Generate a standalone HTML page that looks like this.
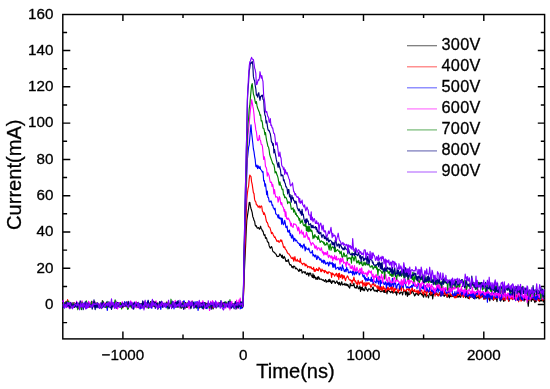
<!DOCTYPE html>
<html><head><meta charset="utf-8"><title>Current vs Time</title>
<style>html,body{margin:0;padding:0;background:#fff}body{width:550px;height:389px;position:relative;overflow:hidden}</style>
</head><body>
<svg width="550" height="389" viewBox="0 0 550 389" style="position:absolute;left:0;top:0">
<rect width="550" height="389" fill="#fff"/>
<rect x="62.8" y="14.5" width="481.8" height="324.4" fill="none" stroke="#000" stroke-width="1.45"/>
<path d="M122.9 338.9v-7.5M122.9 14.5v6.4M243.2 338.9v-7.5M243.2 14.5v6.4M363.5 338.9v-7.5M363.5 14.5v6.4M483.8 338.9v-7.5M483.8 14.5v6.4M183.0 338.9v-4.3M183.0 14.5v3.4M303.3 338.9v-4.3M303.3 14.5v3.4M423.6 338.9v-4.3M423.6 14.5v3.4M62.8 304.5h7.5M544.6 304.5h-6.8M62.8 268.2h7.5M544.6 268.2h-6.8M62.8 231.9h7.5M544.6 231.9h-6.8M62.8 195.7h7.5M544.6 195.7h-6.8M62.8 159.4h7.5M544.6 159.4h-6.8M62.8 123.1h7.5M544.6 123.1h-6.8M62.8 86.8h7.5M544.6 86.8h-6.8M62.8 50.5h7.5M544.6 50.5h-6.8M62.8 322.6h4.3M544.6 322.6h-3.8M62.8 286.4h4.3M544.6 286.4h-3.8M62.8 250.1h4.3M544.6 250.1h-3.8M62.8 213.8h4.3M544.6 213.8h-3.8M62.8 177.5h4.3M544.6 177.5h-3.8M62.8 141.2h4.3M544.6 141.2h-3.8M62.8 105.0h4.3M544.6 105.0h-3.8M62.8 68.7h4.3M544.6 68.7h-3.8M62.8 32.4h4.3M544.6 32.4h-3.8" stroke="#000" stroke-width="1.45" fill="none"/>
<g fill="none" stroke-width="1.15" stroke-linejoin="round">
<polyline points="62.8,305.0 63.4,304.6 64.0,305.3 64.6,306.1 65.2,305.5 65.8,306.2 66.4,304.9 67.0,303.3 67.6,305.6 68.2,305.7 68.8,304.3 69.4,304.5 70.0,304.8 70.6,306.1 71.2,305.0 71.8,304.1 72.4,306.6 73.0,305.5 73.6,307.3 74.2,306.6 74.8,307.3 75.4,305.2 76.0,303.6 76.6,304.6 77.2,304.8 77.8,305.2 78.4,308.1 79.0,305.6 79.6,305.0 80.2,304.8 80.8,306.9 81.4,305.6 82.0,306.2 82.6,306.0 83.2,303.6 83.8,306.0 84.4,305.0 85.0,303.8 85.6,305.7 86.2,305.1 86.8,304.8 87.4,304.9 88.0,306.5 88.6,304.9 89.2,303.3 89.8,306.9 90.4,303.9 91.0,304.2 91.6,303.8 92.2,302.4 92.8,304.0 93.4,306.5 94.0,304.9 94.6,304.2 95.2,307.5 95.8,304.1 96.4,305.0 97.0,304.1 97.6,303.2 98.2,307.0 98.8,304.7 99.4,305.5 100.0,304.8 100.6,306.4 101.2,305.7 101.8,305.2 102.4,300.7 103.1,303.5 103.7,305.3 104.3,305.9 104.9,304.1 105.5,307.4 106.1,305.5 106.7,305.1 107.3,303.4 107.9,304.1 108.5,305.4 109.1,305.4 109.7,305.3 110.3,303.0 110.9,305.5 111.5,305.3 112.1,304.5 112.7,305.1 113.3,305.2 113.9,306.3 114.5,305.0 115.1,305.5 115.7,300.9 116.3,304.1 116.9,305.0 117.5,304.1 118.1,305.4 118.7,303.6 119.3,305.0 119.9,304.2 120.5,306.6 121.1,305.4 121.7,307.1 122.3,307.5 122.9,305.3 123.5,306.1 124.1,304.7 124.7,302.1 125.3,306.0 125.9,306.6 126.5,304.7 127.1,304.3 127.7,305.2 128.3,305.2 128.9,304.1 129.5,304.3 130.1,306.2 130.7,305.1 131.3,304.9 131.9,306.3 132.5,304.6 133.1,306.0 133.7,303.7 134.3,304.7 134.9,304.8 135.5,305.7 136.1,305.1 136.7,307.5 137.3,306.4 137.9,304.5 138.5,307.6 139.1,303.9 139.7,307.1 140.3,304.0 140.9,306.0 141.5,304.0 142.1,304.8 142.7,306.9 143.4,303.4 144.0,301.7 144.6,305.0 145.2,305.3 145.8,305.2 146.4,306.2 147.0,303.6 147.6,305.6 148.2,305.0 148.8,305.9 149.4,305.7 150.0,306.6 150.6,301.5 151.2,305.1 151.8,303.7 152.4,304.9 153.0,305.8 153.6,305.4 154.2,305.7 154.8,304.9 155.4,305.4 156.0,305.3 156.6,306.7 157.2,306.0 157.8,302.9 158.4,305.8 159.0,306.3 159.6,304.5 160.2,303.2 160.8,306.8 161.4,305.2 162.0,305.7 162.6,307.2 163.2,304.0 163.8,305.0 164.4,304.9 165.0,305.9 165.6,304.4 166.2,305.6 166.8,305.1 167.4,306.3 168.0,306.5 168.6,303.3 169.2,305.6 169.8,304.6 170.4,305.0 171.0,305.5 171.6,305.6 172.2,304.2 172.8,305.3 173.4,305.1 174.0,304.9 174.6,303.5 175.2,304.1 175.8,304.5 176.4,305.7 177.0,306.7 177.6,303.8 178.2,303.7 178.8,305.1 179.4,302.3 180.0,304.0 180.6,303.9 181.2,303.8 181.8,305.5 182.4,303.1 183.0,306.5 183.7,303.9 184.3,304.3 184.9,303.9 185.5,302.6 186.1,303.1 186.7,306.4 187.3,307.1 187.9,303.9 188.5,306.2 189.1,305.0 189.7,303.9 190.3,307.0 190.9,307.6 191.5,304.6 192.1,304.9 192.7,305.3 193.3,304.9 193.9,307.9 194.5,306.8 195.1,305.2 195.7,303.1 196.3,307.0 196.9,304.3 197.5,305.0 198.1,304.4 198.7,306.2 199.3,305.8 199.9,306.2 200.5,306.1 201.1,304.7 201.7,305.9 202.3,304.5 202.9,304.5 203.5,302.4 204.1,306.7 204.7,303.8 205.3,305.1 205.9,305.0 206.5,306.8 207.1,305.5 207.7,304.0 208.3,305.1 208.9,304.9 209.5,305.3 210.1,303.5 210.7,305.0 211.3,307.7 211.9,305.8 212.5,307.4 213.1,309.0 213.7,305.6 214.3,303.3 214.9,304.9 215.5,306.4 216.1,306.1 216.7,303.5 217.3,304.8 217.9,304.9 218.5,305.0 219.1,304.9 219.7,303.9 220.3,304.3 220.9,302.5 221.5,306.3 222.1,304.3 222.7,305.8 223.4,303.6 224.0,306.5 224.6,305.1 225.2,305.0 225.8,306.6 226.4,302.8 227.0,303.1 227.6,305.5 228.2,304.0 228.8,304.5 229.4,308.2 230.0,302.5 230.6,305.0 231.2,304.8 231.8,306.3 232.4,305.3 233.0,305.2 233.6,303.5 234.2,304.5 234.8,305.0 235.4,303.0 236.0,305.6 236.6,305.4 237.2,307.2 237.8,303.0 238.4,303.7 239.0,303.8 239.6,304.1 240.2,304.8 240.8,304.7 241.4,305.3 242.0,305.2 242.6,304.9 243.2,302.9 243.8,287.3 244.4,271.3 245.0,258.0 245.6,245.9 246.2,231.4 246.8,220.5 247.4,216.3 248.0,212.1 248.6,208.3 249.2,202.5 249.8,202.3 250.4,206.2 251.0,208.5 251.6,210.5 252.2,212.6 252.8,216.7 253.4,218.0 254.0,220.4 254.6,221.1 255.2,225.1 255.8,226.1 256.4,225.8 257.0,227.8 257.6,228.2 258.2,227.5 258.8,228.0 259.4,229.2 260.0,227.9 260.6,226.2 261.2,228.8 261.8,229.2 262.4,231.2 263.0,231.0 263.7,234.2 264.3,235.4 264.9,234.5 265.5,238.3 266.1,237.5 266.7,238.5 267.3,241.4 267.9,242.3 268.5,242.2 269.1,245.7 269.7,246.9 270.3,248.3 270.9,247.4 271.5,246.5 272.1,248.0 272.7,251.0 273.3,251.8 273.9,252.2 274.5,252.3 275.1,253.6 275.7,253.9 276.3,254.7 276.9,256.2 277.5,256.6 278.1,256.3 278.7,256.3 279.3,255.5 279.9,253.8 280.5,255.0 281.1,255.6 281.7,257.4 282.3,255.0 282.9,258.3 283.5,258.4 284.1,256.4 284.7,257.3 285.3,259.0 285.9,261.4 286.5,260.5 287.1,261.5 287.7,260.6 288.3,259.4 288.9,262.3 289.5,264.1 290.1,265.1 290.7,264.6 291.3,265.4 291.9,267.3 292.5,266.5 293.1,268.1 293.7,266.0 294.3,266.3 294.9,266.8 295.5,268.8 296.1,268.1 296.7,268.2 297.3,269.4 297.9,269.7 298.5,271.0 299.1,271.4 299.7,269.0 300.3,270.6 300.9,270.3 301.5,269.7 302.1,273.1 302.7,272.5 303.3,271.7 304.0,271.7 304.6,273.0 305.2,271.7 305.8,272.9 306.4,274.5 307.0,274.6 307.6,272.9 308.2,273.3 308.8,276.1 309.4,273.0 310.0,274.0 310.6,273.1 311.2,275.5 311.8,276.0 312.4,277.4 313.0,273.7 313.6,278.0 314.2,275.2 314.8,277.9 315.4,277.2 316.0,279.5 316.6,278.6 317.2,277.1 317.8,279.5 318.4,276.7 319.0,277.5 319.6,279.3 320.2,279.0 320.8,279.2 321.4,279.0 322.0,279.8 322.6,280.2 323.2,279.7 323.8,280.7 324.4,281.5 325.0,280.5 325.6,279.6 326.2,282.4 326.8,280.8 327.4,281.4 328.0,281.9 328.6,279.7 329.2,281.5 329.8,279.2 330.4,282.2 331.0,280.9 331.6,283.5 332.2,282.2 332.8,280.7 333.4,281.7 334.0,280.9 334.6,282.0 335.2,283.5 335.8,282.3 336.4,282.0 337.0,280.9 337.6,283.4 338.2,282.6 338.8,284.8 339.4,282.2 340.0,284.2 340.6,285.2 341.2,283.1 341.8,281.7 342.4,285.0 343.0,284.6 343.7,284.2 344.3,285.0 344.9,283.3 345.5,285.1 346.1,285.2 346.7,283.9 347.3,285.7 347.9,284.5 348.5,286.7 349.1,287.1 349.7,288.1 350.3,283.3 350.9,286.0 351.5,285.1 352.1,285.6 352.7,285.4 353.3,285.6 353.9,283.2 354.5,287.2 355.1,288.0 355.7,287.4 356.3,288.1 356.9,285.5 357.5,285.7 358.1,288.4 358.7,288.9 359.3,287.9 359.9,285.8 360.5,291.4 361.1,287.3 361.7,289.6 362.3,286.8 362.9,290.1 363.5,288.8 364.1,290.8 364.7,290.1 365.3,286.7 365.9,287.4 366.5,289.4 367.1,289.8 367.7,291.3 368.3,289.3 368.9,288.8 369.5,289.2 370.1,288.9 370.7,290.7 371.3,289.5 371.9,289.6 372.5,287.9 373.1,287.0 373.7,289.9 374.3,291.1 374.9,290.0 375.5,290.9 376.1,291.4 376.7,290.3 377.3,291.9 377.9,289.4 378.5,290.5 379.1,290.2 379.7,290.8 380.3,291.4 380.9,291.9 381.5,290.9 382.1,291.4 382.7,290.3 383.3,290.5 384.0,292.5 384.6,290.2 385.2,292.5 385.8,291.5 386.4,291.1 387.0,293.9 387.6,290.4 388.2,290.2 388.8,290.9 389.4,291.5 390.0,291.6 390.6,292.7 391.2,291.7 391.8,292.1 392.4,291.2 393.0,293.3 393.6,291.4 394.2,291.9 394.8,292.2 395.4,292.8 396.0,291.6 396.6,295.1 397.2,291.8 397.8,292.4 398.4,292.3 399.0,292.4 399.6,294.0 400.2,293.4 400.8,292.1 401.4,292.3 402.0,292.6 402.6,295.0 403.2,291.9 403.8,290.9 404.4,291.2 405.0,291.4 405.6,294.9 406.2,290.9 406.8,292.8 407.4,296.4 408.0,291.9 408.6,294.9 409.2,294.7 409.8,293.9 410.4,291.1 411.0,293.5 411.6,292.6 412.2,290.7 412.8,290.8 413.4,293.5 414.0,294.0 414.6,296.0 415.2,295.3 415.8,293.5 416.4,293.5 417.0,294.2 417.6,292.9 418.2,295.4 418.8,294.6 419.4,293.4 420.0,293.6 420.6,292.8 421.2,293.7 421.8,294.9 422.4,293.9 423.0,296.1 423.6,297.2 424.3,293.7 424.9,294.6 425.5,294.3 426.1,297.2 426.7,295.1 427.3,295.4 427.9,295.9 428.5,297.9 429.1,295.0 429.7,293.2 430.3,294.3 430.9,295.7 431.5,294.6 432.1,293.5 432.7,298.9 433.3,294.9 433.9,293.8 434.5,293.6 435.1,292.2 435.7,293.1 436.3,294.3 436.9,294.4 437.5,293.9 438.1,296.0 438.7,295.3 439.3,294.0 439.9,292.4 440.5,296.0 441.1,295.6 441.7,294.9 442.3,293.2 442.9,295.2 443.5,292.9 444.1,296.4 444.7,295.3 445.3,295.3 445.9,294.0 446.5,293.3 447.1,297.3 447.7,296.6 448.3,294.8 448.9,296.4 449.5,297.8 450.1,294.2 450.7,296.5 451.3,295.1 451.9,296.7 452.5,294.3 453.1,296.3 453.7,294.5 454.3,297.5 454.9,294.0 455.5,295.8 456.1,297.1 456.7,295.0 457.3,295.7 457.9,297.4 458.5,296.1 459.1,296.6 459.7,294.8 460.3,297.3 460.9,296.9 461.5,294.6 462.1,293.2 462.7,293.4 463.3,296.4 464.0,295.9 464.6,293.9 465.2,296.7 465.8,297.7 466.4,296.0 467.0,295.5 467.6,297.3 468.2,298.4 468.8,298.4 469.4,295.0 470.0,297.4 470.6,296.6 471.2,296.2 471.8,295.6 472.4,297.2 473.0,296.2 473.6,298.4 474.2,297.7 474.8,298.7 475.4,295.5 476.0,297.4 476.6,298.2 477.2,297.6 477.8,297.1 478.4,296.1 479.0,299.0 479.6,298.2 480.2,297.5 480.8,293.1 481.4,295.7 482.0,297.1 482.6,296.3 483.2,294.0 483.8,297.9 484.4,298.2 485.0,299.2 485.6,297.2 486.2,296.7 486.8,298.4 487.4,294.7 488.0,295.4 488.6,296.9 489.2,296.9 489.8,300.9 490.4,296.9 491.0,297.8 491.6,296.9 492.2,296.6 492.8,298.4 493.4,300.3 494.0,297.0 494.6,298.8 495.2,298.4 495.8,298.8 496.4,298.6 497.0,301.7 497.6,296.5 498.2,297.6 498.8,296.1 499.4,295.0 500.0,298.2 500.6,301.1 501.2,299.7 501.8,299.6 502.4,299.0 503.0,298.1 503.6,301.3 504.3,298.1 504.9,300.8 505.5,298.0 506.1,298.2 506.7,298.6 507.3,298.3 507.9,299.0 508.5,299.0 509.1,301.0 509.7,298.5 510.3,295.6 510.9,295.5 511.5,296.6 512.1,297.7 512.7,299.6 513.3,296.4 513.9,298.8 514.5,298.8 515.1,299.0 515.7,298.2 516.3,299.0 516.9,298.5 517.5,300.1 518.1,299.3 518.7,295.5 519.3,299.0 519.9,299.3 520.5,297.9 521.1,297.7 521.7,300.5 522.3,299.0 522.9,297.3 523.5,298.3 524.1,301.1 524.7,296.2 525.3,299.8 525.9,298.6 526.5,299.6 527.1,296.6 527.7,301.8 528.3,306.3 528.9,300.0 529.5,298.1 530.1,298.3 530.7,297.1 531.3,301.5 531.9,297.9 532.5,299.5 533.1,300.0 533.7,298.4 534.3,300.8 534.9,302.6 535.5,300.0 536.1,301.6 536.7,300.4 537.3,298.7 537.9,298.9 538.5,297.0 539.1,299.7 539.7,301.7 540.3,300.4 540.9,300.5 541.5,301.0 542.1,298.5 542.7,299.9 543.3,302.2 544.0,298.2" stroke="#000000"/>
<polyline points="62.8,306.9 63.4,303.3 64.0,304.9 64.6,304.5 65.2,302.5 65.8,301.6 66.4,306.2 67.0,303.5 67.6,299.6 68.2,304.4 68.8,304.3 69.4,305.0 70.0,305.6 70.6,304.1 71.2,304.5 71.8,303.3 72.4,303.7 73.0,304.3 73.6,304.5 74.2,302.6 74.8,304.3 75.4,304.6 76.0,306.1 76.6,305.4 77.2,306.4 77.8,304.8 78.4,304.6 79.0,307.7 79.6,304.9 80.2,304.1 80.8,304.7 81.4,306.2 82.0,303.2 82.6,305.9 83.2,306.6 83.8,306.4 84.4,305.0 85.0,303.6 85.6,303.4 86.2,304.7 86.8,306.6 87.4,305.8 88.0,306.2 88.6,305.2 89.2,307.4 89.8,304.8 90.4,304.1 91.0,305.2 91.6,304.3 92.2,306.2 92.8,306.9 93.4,305.8 94.0,303.4 94.6,303.6 95.2,305.6 95.8,303.3 96.4,305.4 97.0,302.9 97.6,304.3 98.2,305.6 98.8,303.9 99.4,306.0 100.0,306.2 100.6,306.9 101.2,304.6 101.8,303.4 102.4,305.1 103.1,305.5 103.7,303.0 104.3,305.5 104.9,305.9 105.5,303.3 106.1,303.0 106.7,304.5 107.3,307.3 107.9,305.8 108.5,304.1 109.1,304.9 109.7,302.8 110.3,306.8 110.9,304.0 111.5,305.8 112.1,303.2 112.7,305.1 113.3,303.6 113.9,305.8 114.5,306.9 115.1,306.5 115.7,305.8 116.3,306.3 116.9,303.3 117.5,303.1 118.1,304.6 118.7,306.4 119.3,305.1 119.9,305.9 120.5,303.0 121.1,304.5 121.7,304.3 122.3,305.5 122.9,307.7 123.5,306.0 124.1,306.5 124.7,304.5 125.3,304.8 125.9,306.0 126.5,305.5 127.1,301.9 127.7,306.3 128.3,306.2 128.9,305.3 129.5,305.9 130.1,305.5 130.7,304.2 131.3,302.6 131.9,307.4 132.5,305.0 133.1,305.4 133.7,305.1 134.3,305.2 134.9,305.4 135.5,303.6 136.1,305.6 136.7,305.1 137.3,305.0 137.9,304.8 138.5,305.2 139.1,303.6 139.7,305.0 140.3,304.7 140.9,305.0 141.5,306.6 142.1,306.1 142.7,305.4 143.4,304.7 144.0,305.9 144.6,306.4 145.2,304.6 145.8,304.2 146.4,307.3 147.0,302.7 147.6,305.9 148.2,305.1 148.8,303.5 149.4,304.9 150.0,305.8 150.6,302.5 151.2,306.4 151.8,305.1 152.4,303.8 153.0,306.4 153.6,305.1 154.2,304.4 154.8,301.7 155.4,306.2 156.0,305.0 156.6,304.1 157.2,304.8 157.8,304.4 158.4,304.4 159.0,304.8 159.6,304.3 160.2,303.4 160.8,303.6 161.4,304.4 162.0,304.5 162.6,306.4 163.2,305.1 163.8,304.7 164.4,305.5 165.0,304.8 165.6,306.1 166.2,302.9 166.8,302.0 167.4,305.5 168.0,304.4 168.6,305.3 169.2,303.2 169.8,304.4 170.4,304.8 171.0,305.3 171.6,304.8 172.2,306.3 172.8,304.0 173.4,305.9 174.0,304.2 174.6,304.8 175.2,303.5 175.8,305.0 176.4,303.6 177.0,306.2 177.6,304.1 178.2,305.3 178.8,304.7 179.4,304.9 180.0,303.7 180.6,307.7 181.2,304.5 181.8,307.0 182.4,303.3 183.0,307.6 183.7,306.3 184.3,307.2 184.9,304.8 185.5,306.7 186.1,304.8 186.7,305.7 187.3,307.4 187.9,305.4 188.5,304.1 189.1,305.2 189.7,303.7 190.3,305.4 190.9,304.9 191.5,305.5 192.1,304.5 192.7,302.4 193.3,304.5 193.9,304.7 194.5,305.8 195.1,306.0 195.7,303.0 196.3,306.5 196.9,306.2 197.5,305.1 198.1,305.5 198.7,302.3 199.3,308.2 199.9,304.5 200.5,304.0 201.1,306.5 201.7,305.8 202.3,304.4 202.9,302.7 203.5,306.2 204.1,307.1 204.7,303.6 205.3,302.9 205.9,305.4 206.5,308.0 207.1,303.0 207.7,305.2 208.3,303.4 208.9,305.0 209.5,305.5 210.1,305.6 210.7,303.0 211.3,303.0 211.9,307.9 212.5,306.2 213.1,302.5 213.7,305.5 214.3,306.8 214.9,304.9 215.5,305.1 216.1,305.1 216.7,305.6 217.3,305.4 217.9,305.6 218.5,304.5 219.1,306.1 219.7,305.3 220.3,305.1 220.9,303.2 221.5,304.4 222.1,305.1 222.7,302.9 223.4,304.4 224.0,303.5 224.6,304.3 225.2,302.5 225.8,305.1 226.4,305.0 227.0,305.5 227.6,303.8 228.2,304.3 228.8,305.1 229.4,307.0 230.0,307.4 230.6,304.5 231.2,303.9 231.8,303.9 232.4,306.7 233.0,303.5 233.6,305.7 234.2,304.4 234.8,304.4 235.4,306.0 236.0,305.8 236.6,307.8 237.2,306.2 237.8,307.4 238.4,304.4 239.0,304.9 239.6,303.7 240.2,304.5 240.8,305.8 241.4,304.5 242.0,305.5 242.6,304.1 243.2,304.1 243.8,284.5 244.4,262.2 245.0,244.9 245.6,230.9 246.2,214.9 246.8,199.4 247.4,193.3 248.0,188.7 248.6,186.3 249.2,179.2 249.8,175.0 250.4,175.9 251.0,176.6 251.6,181.9 252.2,184.3 252.8,188.7 253.4,192.6 254.0,193.6 254.6,199.4 255.2,201.2 255.8,201.8 256.4,204.8 257.0,204.8 257.6,205.8 258.2,207.3 258.8,206.2 259.4,205.9 260.0,208.0 260.6,206.7 261.2,205.8 261.8,206.5 262.4,211.1 263.0,211.9 263.7,214.5 264.3,212.8 264.9,214.7 265.5,216.6 266.1,220.0 266.7,222.1 267.3,222.3 267.9,224.1 268.5,226.7 269.1,226.9 269.7,227.2 270.3,228.9 270.9,231.2 271.5,233.6 272.1,232.4 272.7,233.3 273.3,235.0 273.9,236.1 274.5,237.5 275.1,236.9 275.7,238.9 276.3,239.7 276.9,241.4 277.5,241.2 278.1,240.5 278.7,242.0 279.3,242.3 279.9,241.3 280.5,239.9 281.1,241.4 281.7,240.1 282.3,242.6 282.9,244.3 283.5,247.1 284.1,247.6 284.7,246.7 285.3,249.1 285.9,249.6 286.5,250.5 287.1,252.1 287.7,253.2 288.3,253.8 288.9,253.9 289.5,254.9 290.1,255.8 290.7,256.8 291.3,258.3 291.9,257.9 292.5,258.8 293.1,257.2 293.7,261.2 294.3,259.4 294.9,256.5 295.5,260.2 296.1,261.2 296.7,260.2 297.3,259.2 297.9,261.3 298.5,260.8 299.1,261.4 299.7,262.1 300.3,258.3 300.9,262.4 301.5,263.3 302.1,263.7 302.7,264.8 303.3,263.2 304.0,263.2 304.6,264.0 305.2,266.0 305.8,264.1 306.4,265.4 307.0,265.4 307.6,267.7 308.2,266.4 308.8,266.7 309.4,266.6 310.0,268.1 310.6,266.8 311.2,267.1 311.8,268.8 312.4,268.5 313.0,269.3 313.6,267.4 314.2,271.5 314.8,269.4 315.4,271.2 316.0,269.9 316.6,268.5 317.2,270.4 317.8,269.5 318.4,270.7 319.0,267.4 319.6,268.9 320.2,268.8 320.8,271.7 321.4,271.6 322.0,269.0 322.6,270.6 323.2,270.8 323.8,270.4 324.4,272.6 325.0,270.3 325.6,271.6 326.2,271.5 326.8,273.1 327.4,272.2 328.0,273.7 328.6,271.9 329.2,271.9 329.8,272.4 330.4,272.9 331.0,273.1 331.6,277.4 332.2,272.9 332.8,274.5 333.4,273.9 334.0,274.6 334.6,276.2 335.2,275.3 335.8,274.1 336.4,273.3 337.0,276.0 337.6,276.6 338.2,273.5 338.8,279.5 339.4,273.2 340.0,276.1 340.6,277.5 341.2,275.4 341.8,274.5 342.4,279.0 343.0,275.2 343.7,277.9 344.3,275.8 344.9,278.8 345.5,280.7 346.1,278.1 346.7,277.6 347.3,275.9 347.9,276.5 348.5,278.1 349.1,279.6 349.7,280.1 350.3,279.7 350.9,280.9 351.5,280.3 352.1,283.7 352.7,280.0 353.3,280.7 353.9,277.1 354.5,279.8 355.1,281.9 355.7,280.8 356.3,283.8 356.9,282.9 357.5,284.8 358.1,280.3 358.7,281.7 359.3,284.3 359.9,283.0 360.5,281.9 361.1,282.8 361.7,282.9 362.3,280.5 362.9,286.4 363.5,283.5 364.1,282.5 364.7,285.5 365.3,285.9 365.9,282.7 366.5,285.8 367.1,282.6 367.7,284.3 368.3,283.7 368.9,282.6 369.5,284.4 370.1,284.3 370.7,287.1 371.3,287.0 371.9,284.9 372.5,283.8 373.1,284.3 373.7,282.6 374.3,285.8 374.9,285.8 375.5,284.8 376.1,286.5 376.7,286.7 377.3,288.4 377.9,285.6 378.5,289.0 379.1,286.7 379.7,290.1 380.3,286.0 380.9,289.7 381.5,286.7 382.1,290.6 382.7,288.6 383.3,286.1 384.0,289.3 384.6,288.1 385.2,288.8 385.8,291.9 386.4,287.7 387.0,287.4 387.6,290.0 388.2,287.2 388.8,289.7 389.4,290.1 390.0,288.3 390.6,289.2 391.2,284.2 391.8,290.7 392.4,287.1 393.0,286.9 393.6,291.9 394.2,291.8 394.8,288.2 395.4,289.9 396.0,288.6 396.6,287.6 397.2,290.0 397.8,291.0 398.4,292.6 399.0,288.6 399.6,290.4 400.2,288.2 400.8,288.0 401.4,290.9 402.0,285.8 402.6,286.9 403.2,287.5 403.8,291.2 404.4,289.9 405.0,290.2 405.6,290.2 406.2,291.3 406.8,288.9 407.4,289.3 408.0,289.0 408.6,290.4 409.2,287.4 409.8,289.1 410.4,294.0 411.0,290.7 411.6,290.0 412.2,286.8 412.8,290.7 413.4,290.6 414.0,291.6 414.6,289.5 415.2,291.5 415.8,291.9 416.4,292.2 417.0,290.1 417.6,292.0 418.2,293.9 418.8,290.3 419.4,292.9 420.0,291.1 420.6,291.3 421.2,290.0 421.8,290.5 422.4,293.2 423.0,292.7 423.6,294.6 424.3,289.8 424.9,291.9 425.5,290.3 426.1,293.1 426.7,295.8 427.3,289.8 427.9,291.9 428.5,291.9 429.1,292.0 429.7,291.1 430.3,291.3 430.9,294.8 431.5,290.4 432.1,293.0 432.7,293.2 433.3,289.7 433.9,291.3 434.5,293.4 435.1,296.2 435.7,292.9 436.3,292.4 436.9,293.6 437.5,295.5 438.1,295.1 438.7,295.8 439.3,293.4 439.9,292.7 440.5,292.3 441.1,295.2 441.7,293.6 442.3,293.1 442.9,294.7 443.5,294.3 444.1,290.6 444.7,293.8 445.3,292.8 445.9,294.8 446.5,294.0 447.1,296.9 447.7,294.2 448.3,290.0 448.9,291.2 449.5,292.7 450.1,293.6 450.7,294.8 451.3,296.1 451.9,295.4 452.5,294.4 453.1,295.8 453.7,293.8 454.3,296.8 454.9,298.0 455.5,296.6 456.1,297.7 456.7,296.9 457.3,292.8 457.9,295.2 458.5,294.5 459.1,292.9 459.7,292.9 460.3,296.0 460.9,293.1 461.5,294.7 462.1,295.2 462.7,294.6 463.3,297.5 464.0,296.1 464.6,295.1 465.2,293.8 465.8,295.5 466.4,295.0 467.0,293.2 467.6,292.6 468.2,293.8 468.8,293.3 469.4,298.9 470.0,296.5 470.6,295.4 471.2,296.6 471.8,296.9 472.4,293.1 473.0,296.1 473.6,297.3 474.2,295.0 474.8,292.5 475.4,295.4 476.0,293.3 476.6,296.2 477.2,296.0 477.8,296.7 478.4,296.0 479.0,293.1 479.6,298.1 480.2,293.4 480.8,298.0 481.4,296.8 482.0,295.1 482.6,295.4 483.2,296.0 483.8,299.4 484.4,296.1 485.0,298.1 485.6,292.3 486.2,297.2 486.8,296.4 487.4,298.7 488.0,297.8 488.6,299.1 489.2,295.6 489.8,297.3 490.4,296.2 491.0,298.3 491.6,297.1 492.2,294.6 492.8,298.7 493.4,299.9 494.0,296.3 494.6,299.0 495.2,297.7 495.8,295.8 496.4,298.3 497.0,295.7 497.6,298.2 498.2,294.7 498.8,294.9 499.4,298.0 500.0,297.6 500.6,298.5 501.2,296.8 501.8,295.2 502.4,299.6 503.0,295.6 503.6,299.5 504.3,298.9 504.9,300.4 505.5,293.9 506.1,297.3 506.7,297.1 507.3,298.9 507.9,295.8 508.5,301.3 509.1,297.9 509.7,294.4 510.3,298.8 510.9,298.0 511.5,297.0 512.1,299.4 512.7,297.7 513.3,296.1 513.9,297.4 514.5,296.8 515.1,298.1 515.7,297.0 516.3,297.1 516.9,294.9 517.5,296.1 518.1,297.9 518.7,301.8 519.3,296.7 519.9,296.6 520.5,299.4 521.1,301.2 521.7,299.9 522.3,296.6 522.9,300.1 523.5,299.2 524.1,298.1 524.7,296.0 525.3,297.9 525.9,298.3 526.5,299.1 527.1,295.7 527.7,296.6 528.3,298.4 528.9,300.3 529.5,299.4 530.1,297.5 530.7,299.8 531.3,297.2 531.9,298.1 532.5,298.2 533.1,297.5 533.7,297.9 534.3,300.2 534.9,299.5 535.5,294.5 536.1,300.9 536.7,299.8 537.3,297.4 537.9,299.3 538.5,300.5 539.1,301.1 539.7,297.9 540.3,297.3 540.9,296.8 541.5,299.1 542.1,297.3 542.7,300.4 543.3,298.5 544.0,300.1" stroke="#ff0000"/>
<polyline points="62.8,304.2 63.4,306.3 64.0,304.9 64.6,308.1 65.2,305.6 65.8,303.4 66.4,302.0 67.0,305.4 67.6,305.5 68.2,304.2 68.8,303.0 69.4,304.1 70.0,306.5 70.6,304.4 71.2,303.2 71.8,306.4 72.4,307.6 73.0,304.1 73.6,304.4 74.2,303.2 74.8,304.9 75.4,306.3 76.0,305.9 76.6,307.0 77.2,306.8 77.8,306.1 78.4,306.0 79.0,303.0 79.6,307.3 80.2,305.1 80.8,306.2 81.4,302.3 82.0,304.6 82.6,305.7 83.2,303.5 83.8,305.7 84.4,305.9 85.0,302.2 85.6,303.7 86.2,303.0 86.8,302.9 87.4,303.6 88.0,304.8 88.6,307.1 89.2,303.7 89.8,304.9 90.4,303.8 91.0,305.1 91.6,306.3 92.2,306.9 92.8,303.7 93.4,302.6 94.0,305.6 94.6,304.2 95.2,302.5 95.8,306.6 96.4,305.7 97.0,307.1 97.6,302.8 98.2,304.5 98.8,305.9 99.4,308.1 100.0,305.4 100.6,303.2 101.2,305.6 101.8,305.8 102.4,303.8 103.1,307.3 103.7,304.9 104.3,303.9 104.9,306.5 105.5,306.6 106.1,304.6 106.7,305.2 107.3,310.4 107.9,304.6 108.5,304.6 109.1,306.8 109.7,306.3 110.3,304.2 110.9,302.9 111.5,302.5 112.1,306.6 112.7,303.0 113.3,303.6 113.9,305.1 114.5,304.1 115.1,303.5 115.7,301.7 116.3,307.0 116.9,303.9 117.5,305.3 118.1,305.4 118.7,302.9 119.3,303.5 119.9,306.9 120.5,305.5 121.1,304.6 121.7,307.6 122.3,303.7 122.9,305.2 123.5,304.7 124.1,304.4 124.7,301.7 125.3,304.9 125.9,305.7 126.5,301.8 127.1,305.9 127.7,306.0 128.3,307.6 128.9,303.0 129.5,304.5 130.1,304.6 130.7,304.7 131.3,305.3 131.9,306.5 132.5,306.5 133.1,304.2 133.7,304.8 134.3,302.0 134.9,306.4 135.5,305.9 136.1,306.9 136.7,302.4 137.3,307.3 137.9,303.6 138.5,302.3 139.1,305.3 139.7,303.7 140.3,309.0 140.9,305.7 141.5,308.1 142.1,304.7 142.7,305.0 143.4,306.4 144.0,303.3 144.6,304.3 145.2,306.0 145.8,306.0 146.4,307.7 147.0,305.3 147.6,301.1 148.2,306.3 148.8,304.2 149.4,306.0 150.0,303.5 150.6,304.2 151.2,305.4 151.8,308.3 152.4,306.0 153.0,302.8 153.6,305.5 154.2,303.8 154.8,305.9 155.4,308.5 156.0,304.2 156.6,304.4 157.2,306.1 157.8,305.7 158.4,304.5 159.0,306.1 159.6,304.4 160.2,305.4 160.8,309.4 161.4,305.3 162.0,306.1 162.6,306.6 163.2,304.3 163.8,305.9 164.4,304.0 165.0,303.0 165.6,304.7 166.2,307.9 166.8,306.4 167.4,303.3 168.0,305.5 168.6,306.5 169.2,305.2 169.8,304.1 170.4,304.5 171.0,303.8 171.6,306.5 172.2,305.5 172.8,305.5 173.4,305.0 174.0,308.9 174.6,305.4 175.2,307.5 175.8,302.4 176.4,302.1 177.0,301.9 177.6,303.5 178.2,305.9 178.8,303.2 179.4,305.4 180.0,303.9 180.6,306.7 181.2,306.1 181.8,304.1 182.4,301.7 183.0,305.0 183.7,300.8 184.3,301.1 184.9,307.4 185.5,305.0 186.1,306.8 186.7,305.2 187.3,306.0 187.9,305.1 188.5,303.2 189.1,303.2 189.7,304.5 190.3,305.0 190.9,304.8 191.5,304.7 192.1,303.9 192.7,305.0 193.3,304.0 193.9,308.1 194.5,303.5 195.1,301.7 195.7,304.6 196.3,307.6 196.9,301.6 197.5,305.6 198.1,310.5 198.7,305.4 199.3,303.9 199.9,304.3 200.5,302.7 201.1,303.8 201.7,304.5 202.3,308.6 202.9,307.0 203.5,304.6 204.1,303.7 204.7,306.9 205.3,306.1 205.9,304.1 206.5,308.5 207.1,308.6 207.7,305.4 208.3,304.5 208.9,305.9 209.5,309.2 210.1,304.9 210.7,307.4 211.3,303.8 211.9,305.2 212.5,304.5 213.1,303.8 213.7,306.0 214.3,303.4 214.9,302.7 215.5,304.2 216.1,302.5 216.7,306.1 217.3,303.3 217.9,304.5 218.5,306.8 219.1,305.1 219.7,306.0 220.3,306.0 220.9,304.8 221.5,303.0 222.1,305.6 222.7,304.7 223.4,307.7 224.0,304.8 224.6,302.8 225.2,303.5 225.8,304.1 226.4,306.0 227.0,306.8 227.6,305.1 228.2,307.5 228.8,307.3 229.4,303.2 230.0,306.7 230.6,301.6 231.2,307.6 231.8,304.2 232.4,307.2 233.0,303.6 233.6,306.9 234.2,304.9 234.8,305.3 235.4,305.8 236.0,304.0 236.6,302.2 237.2,306.1 237.8,303.3 238.4,304.8 239.0,305.0 239.6,300.9 240.2,309.0 240.8,306.2 241.4,308.3 242.0,305.6 242.6,305.4 243.2,298.4 243.8,276.7 244.4,247.2 245.0,226.7 245.6,212.2 246.2,193.3 246.8,174.1 247.4,159.1 248.0,153.4 248.6,147.2 249.2,144.8 249.8,138.0 250.4,130.4 251.0,124.8 251.6,132.9 252.2,137.7 252.8,143.3 253.4,149.0 254.0,151.6 254.6,156.3 255.2,159.7 255.8,166.3 256.4,166.9 257.0,165.0 257.6,168.6 258.2,165.9 258.8,167.8 259.4,168.5 260.0,166.3 260.6,169.3 261.2,170.0 261.8,170.7 262.4,172.2 263.0,171.7 263.7,180.9 264.3,180.5 264.9,186.1 265.5,183.8 266.1,188.9 266.7,194.6 267.3,191.0 267.9,197.4 268.5,197.5 269.1,201.2 269.7,202.0 270.3,202.0 270.9,200.8 271.5,202.0 272.1,205.5 272.7,204.9 273.3,208.0 273.9,208.3 274.5,209.8 275.1,208.2 275.7,213.6 276.3,214.3 276.9,214.6 277.5,215.8 278.1,217.8 278.7,214.7 279.3,218.7 279.9,217.8 280.5,219.0 281.1,217.9 281.7,224.3 282.3,218.3 282.9,222.9 283.5,224.7 284.1,223.2 284.7,220.3 285.3,223.2 285.9,227.5 286.5,227.7 287.1,226.1 287.7,231.8 288.3,230.8 288.9,232.4 289.5,230.0 290.1,235.4 290.7,233.6 291.3,237.4 291.9,238.2 292.5,234.9 293.1,236.9 293.7,241.3 294.3,238.3 294.9,238.5 295.5,240.9 296.1,240.0 296.7,240.4 297.3,242.2 297.9,242.8 298.5,243.3 299.1,243.3 299.7,245.5 300.3,243.9 300.9,247.2 301.5,245.3 302.1,246.1 302.7,248.1 303.3,245.2 304.0,244.0 304.6,246.6 305.2,250.8 305.8,246.8 306.4,248.8 307.0,249.2 307.6,249.1 308.2,249.9 308.8,248.0 309.4,250.2 310.0,252.2 310.6,253.0 311.2,252.9 311.8,252.1 312.4,250.5 313.0,255.9 313.6,254.6 314.2,255.6 314.8,257.0 315.4,255.1 316.0,255.5 316.6,259.4 317.2,259.1 317.8,255.9 318.4,257.6 319.0,257.4 319.6,259.8 320.2,260.0 320.8,258.7 321.4,260.8 322.0,262.5 322.6,261.1 323.2,260.1 323.8,263.5 324.4,260.4 325.0,261.7 325.6,264.2 326.2,263.0 326.8,263.7 327.4,262.4 328.0,262.3 328.6,265.9 329.2,264.5 329.8,261.8 330.4,263.7 331.0,263.2 331.6,264.0 332.2,262.4 332.8,267.2 333.4,263.6 334.0,267.5 334.6,264.6 335.2,263.9 335.8,269.3 336.4,268.2 337.0,268.0 337.6,267.6 338.2,267.3 338.8,269.6 339.4,269.7 340.0,267.0 340.6,267.2 341.2,270.3 341.8,270.6 342.4,264.9 343.0,267.4 343.7,269.2 344.3,271.6 344.9,271.0 345.5,269.4 346.1,271.8 346.7,267.2 347.3,269.9 347.9,269.6 348.5,272.9 349.1,272.7 349.7,272.6 350.3,271.0 350.9,272.4 351.5,272.7 352.1,271.6 352.7,275.1 353.3,269.8 353.9,273.1 354.5,274.8 355.1,272.8 355.7,270.2 356.3,274.1 356.9,272.9 357.5,271.9 358.1,272.1 358.7,272.6 359.3,275.0 359.9,274.1 360.5,272.1 361.1,272.4 361.7,273.1 362.3,273.5 362.9,276.4 363.5,277.0 364.1,275.0 364.7,279.2 365.3,277.2 365.9,281.1 366.5,278.5 367.1,279.2 367.7,280.7 368.3,277.4 368.9,280.2 369.5,279.8 370.1,279.6 370.7,281.3 371.3,277.1 371.9,281.3 372.5,279.6 373.1,283.3 373.7,281.4 374.3,281.1 374.9,281.5 375.5,282.4 376.1,283.0 376.7,277.6 377.3,281.2 377.9,281.5 378.5,284.2 379.1,276.0 379.7,278.2 380.3,286.8 380.9,280.3 381.5,283.3 382.1,282.6 382.7,281.7 383.3,282.3 384.0,284.4 384.6,284.5 385.2,281.9 385.8,282.5 386.4,288.1 387.0,284.5 387.6,280.6 388.2,284.8 388.8,282.8 389.4,286.7 390.0,281.8 390.6,286.1 391.2,286.5 391.8,284.3 392.4,278.4 393.0,285.1 393.6,286.8 394.2,283.2 394.8,283.9 395.4,280.9 396.0,287.6 396.6,288.4 397.2,285.5 397.8,284.4 398.4,284.4 399.0,282.8 399.6,289.2 400.2,287.7 400.8,286.1 401.4,283.7 402.0,284.2 402.6,286.5 403.2,287.7 403.8,283.4 404.4,283.4 405.0,279.2 405.6,285.1 406.2,286.9 406.8,288.0 407.4,286.7 408.0,287.5 408.6,287.0 409.2,288.2 409.8,287.3 410.4,286.5 411.0,287.4 411.6,285.3 412.2,287.1 412.8,286.3 413.4,283.0 414.0,285.6 414.6,286.1 415.2,286.3 415.8,286.1 416.4,285.2 417.0,288.7 417.6,284.6 418.2,283.4 418.8,284.9 419.4,288.7 420.0,291.1 420.6,288.6 421.2,287.7 421.8,286.2 422.4,288.3 423.0,289.0 423.6,284.4 424.3,289.5 424.9,285.5 425.5,285.8 426.1,291.2 426.7,287.6 427.3,289.1 427.9,290.2 428.5,292.0 429.1,291.3 429.7,287.1 430.3,289.0 430.9,288.1 431.5,291.5 432.1,291.1 432.7,290.0 433.3,293.2 433.9,293.7 434.5,289.4 435.1,290.0 435.7,292.7 436.3,291.0 436.9,289.0 437.5,286.3 438.1,292.3 438.7,289.1 439.3,285.8 439.9,290.6 440.5,287.2 441.1,296.3 441.7,287.3 442.3,290.8 442.9,295.2 443.5,289.3 444.1,288.8 444.7,289.2 445.3,288.8 445.9,291.6 446.5,293.5 447.1,292.8 447.7,291.7 448.3,290.7 448.9,293.0 449.5,291.9 450.1,290.4 450.7,291.8 451.3,287.1 451.9,287.4 452.5,294.9 453.1,293.9 453.7,295.8 454.3,295.7 454.9,291.6 455.5,295.1 456.1,294.7 456.7,293.0 457.3,290.6 457.9,293.5 458.5,293.3 459.1,290.5 459.7,291.4 460.3,291.3 460.9,290.5 461.5,294.9 462.1,292.4 462.7,294.1 463.3,290.4 464.0,290.7 464.6,295.5 465.2,290.1 465.8,296.2 466.4,291.0 467.0,293.0 467.6,295.6 468.2,296.5 468.8,294.7 469.4,294.4 470.0,295.9 470.6,292.6 471.2,297.0 471.8,293.3 472.4,293.4 473.0,297.7 473.6,292.8 474.2,296.2 474.8,298.9 475.4,294.4 476.0,293.9 476.6,291.5 477.2,294.9 477.8,291.0 478.4,291.1 479.0,291.7 479.6,291.4 480.2,294.0 480.8,296.1 481.4,293.9 482.0,293.1 482.6,294.9 483.2,291.5 483.8,298.5 484.4,293.5 485.0,294.4 485.6,297.8 486.2,294.2 486.8,292.8 487.4,302.2 488.0,292.5 488.6,292.6 489.2,297.8 489.8,295.4 490.4,293.7 491.0,298.8 491.6,291.8 492.2,299.4 492.8,295.5 493.4,294.0 494.0,292.7 494.6,291.8 495.2,297.4 495.8,296.1 496.4,297.7 497.0,293.3 497.6,298.1 498.2,292.4 498.8,293.0 499.4,294.1 500.0,300.5 500.6,297.0 501.2,294.1 501.8,299.1 502.4,296.1 503.0,296.2 503.6,294.2 504.3,295.5 504.9,295.4 505.5,296.8 506.1,295.8 506.7,296.3 507.3,294.2 507.9,295.1 508.5,293.7 509.1,299.6 509.7,293.0 510.3,296.2 510.9,293.5 511.5,296.1 512.1,294.3 512.7,292.7 513.3,297.5 513.9,296.0 514.5,297.1 515.1,296.5 515.7,300.6 516.3,297.4 516.9,297.7 517.5,299.0 518.1,297.8 518.7,300.5 519.3,294.1 519.9,296.0 520.5,292.7 521.1,298.6 521.7,299.4 522.3,296.3 522.9,300.4 523.5,296.0 524.1,298.0 524.7,297.6 525.3,295.8 525.9,296.3 526.5,292.1 527.1,295.0 527.7,299.3 528.3,294.1 528.9,299.3 529.5,296.4 530.1,299.4 530.7,298.4 531.3,293.7 531.9,297.9 532.5,298.2 533.1,297.9 533.7,297.2 534.3,293.3 534.9,299.6 535.5,299.4 536.1,293.8 536.7,300.1 537.3,297.3 537.9,294.2 538.5,297.0 539.1,298.2 539.7,299.0 540.3,299.1 540.9,298.3 541.5,296.8 542.1,294.4 542.7,294.9 543.3,298.9 544.0,299.3" stroke="#0000ff"/>
<polyline points="62.8,302.1 63.4,300.3 64.0,306.9 64.6,306.6 65.2,306.4 65.8,306.0 66.4,306.1 67.0,304.7 67.6,302.7 68.2,307.2 68.8,307.7 69.4,308.2 70.0,302.7 70.6,302.3 71.2,307.7 71.8,307.8 72.4,304.5 73.0,302.7 73.6,302.9 74.2,304.4 74.8,303.5 75.4,304.2 76.0,305.8 76.6,301.2 77.2,304.8 77.8,306.9 78.4,305.7 79.0,307.7 79.6,304.7 80.2,302.7 80.8,307.2 81.4,302.7 82.0,300.8 82.6,304.1 83.2,307.0 83.8,306.4 84.4,305.4 85.0,307.2 85.6,307.1 86.2,305.3 86.8,305.1 87.4,303.6 88.0,307.0 88.6,301.3 89.2,302.8 89.8,303.1 90.4,306.0 91.0,302.1 91.6,305.4 92.2,301.4 92.8,302.8 93.4,306.5 94.0,305.6 94.6,301.3 95.2,302.9 95.8,305.1 96.4,304.3 97.0,304.4 97.6,306.2 98.2,305.2 98.8,306.0 99.4,305.6 100.0,303.9 100.6,306.6 101.2,303.4 101.8,304.6 102.4,303.3 103.1,302.1 103.7,302.4 104.3,303.6 104.9,303.4 105.5,305.1 106.1,303.7 106.7,306.5 107.3,305.2 107.9,303.4 108.5,304.9 109.1,303.9 109.7,306.8 110.3,302.2 110.9,305.9 111.5,304.0 112.1,304.8 112.7,303.0 113.3,305.5 113.9,306.7 114.5,308.3 115.1,305.4 115.7,307.0 116.3,303.8 116.9,302.1 117.5,309.0 118.1,307.2 118.7,304.2 119.3,302.5 119.9,304.2 120.5,304.2 121.1,303.8 121.7,303.7 122.3,301.7 122.9,303.6 123.5,307.1 124.1,305.7 124.7,304.4 125.3,306.3 125.9,305.3 126.5,305.8 127.1,306.1 127.7,303.5 128.3,305.5 128.9,307.1 129.5,306.1 130.1,304.7 130.7,300.8 131.3,304.3 131.9,302.0 132.5,303.8 133.1,308.8 133.7,304.1 134.3,306.4 134.9,302.5 135.5,306.8 136.1,301.4 136.7,307.8 137.3,305.9 137.9,302.6 138.5,303.5 139.1,308.0 139.7,305.0 140.3,305.8 140.9,305.1 141.5,303.4 142.1,305.9 142.7,305.4 143.4,302.0 144.0,308.3 144.6,305.5 145.2,303.9 145.8,307.1 146.4,306.0 147.0,307.3 147.6,304.5 148.2,306.0 148.8,303.3 149.4,302.9 150.0,304.7 150.6,305.5 151.2,304.3 151.8,304.7 152.4,307.1 153.0,302.8 153.6,304.4 154.2,303.3 154.8,307.4 155.4,303.1 156.0,300.8 156.6,303.6 157.2,307.5 157.8,304.7 158.4,304.9 159.0,304.4 159.6,305.2 160.2,303.8 160.8,305.7 161.4,304.4 162.0,306.1 162.6,304.6 163.2,302.9 163.8,305.7 164.4,303.5 165.0,306.5 165.6,305.5 166.2,305.2 166.8,302.4 167.4,306.2 168.0,302.5 168.6,307.6 169.2,305.1 169.8,303.1 170.4,303.5 171.0,306.7 171.6,307.1 172.2,303.1 172.8,307.2 173.4,303.7 174.0,305.8 174.6,304.8 175.2,300.4 175.8,301.9 176.4,303.2 177.0,307.4 177.6,304.2 178.2,304.7 178.8,305.0 179.4,302.3 180.0,308.1 180.6,304.2 181.2,304.6 181.8,306.2 182.4,301.5 183.0,307.2 183.7,304.7 184.3,304.6 184.9,309.0 185.5,307.5 186.1,306.6 186.7,303.3 187.3,303.0 187.9,303.7 188.5,304.3 189.1,309.0 189.7,304.4 190.3,305.8 190.9,302.6 191.5,302.2 192.1,300.6 192.7,303.5 193.3,303.3 193.9,306.8 194.5,304.7 195.1,307.2 195.7,303.1 196.3,307.1 196.9,305.2 197.5,306.4 198.1,305.7 198.7,303.9 199.3,305.9 199.9,304.4 200.5,306.7 201.1,302.2 201.7,306.0 202.3,302.9 202.9,300.7 203.5,309.4 204.1,306.7 204.7,305.2 205.3,302.6 205.9,305.7 206.5,304.1 207.1,306.2 207.7,303.7 208.3,307.1 208.9,303.2 209.5,310.5 210.1,308.4 210.7,301.3 211.3,304.5 211.9,306.5 212.5,300.6 213.1,302.8 213.7,302.7 214.3,305.6 214.9,303.6 215.5,303.8 216.1,308.0 216.7,303.7 217.3,305.2 217.9,302.4 218.5,302.3 219.1,306.0 219.7,306.0 220.3,304.5 220.9,303.6 221.5,305.6 222.1,305.0 222.7,303.7 223.4,304.0 224.0,302.6 224.6,304.4 225.2,306.5 225.8,308.2 226.4,303.3 227.0,305.5 227.6,305.5 228.2,305.4 228.8,307.8 229.4,305.6 230.0,309.8 230.6,305.6 231.2,306.5 231.8,301.3 232.4,304.0 233.0,305.2 233.6,304.5 234.2,303.4 234.8,306.3 235.4,305.3 236.0,305.5 236.6,300.1 237.2,304.7 237.8,308.6 238.4,303.3 239.0,299.9 239.6,306.7 240.2,298.1 240.8,305.0 241.4,302.9 242.0,305.9 242.6,305.4 243.2,306.5 243.8,275.9 244.4,247.5 245.0,219.0 245.6,204.7 246.2,184.0 246.8,166.0 247.4,149.5 248.0,135.0 248.6,129.0 249.2,123.5 249.8,116.4 250.4,109.9 251.0,105.5 251.6,99.7 252.2,102.5 252.8,106.2 253.4,109.2 254.0,114.4 254.6,121.9 255.2,124.6 255.8,129.9 256.4,131.9 257.0,137.3 257.6,140.5 258.2,140.6 258.8,139.3 259.4,135.4 260.0,140.0 260.6,140.7 261.2,144.4 261.8,144.5 262.4,146.1 263.0,152.4 263.7,159.5 264.3,156.7 264.9,160.0 265.5,166.8 266.1,167.2 266.7,169.6 267.3,176.2 267.9,172.7 268.5,174.2 269.1,175.7 269.7,179.3 270.3,182.4 270.9,182.2 271.5,182.1 272.1,186.4 272.7,184.4 273.3,187.8 273.9,193.9 274.5,189.5 275.1,193.9 275.7,197.1 276.3,196.6 276.9,197.1 277.5,197.1 278.1,202.2 278.7,200.2 279.3,196.6 279.9,197.8 280.5,202.0 281.1,204.6 281.7,202.6 282.3,205.7 282.9,206.8 283.5,207.6 284.1,211.5 284.7,209.6 285.3,216.4 285.9,211.8 286.5,218.6 287.1,218.0 287.7,219.4 288.3,218.0 288.9,219.0 289.5,220.6 290.1,221.7 290.7,225.9 291.3,223.2 291.9,226.4 292.5,226.9 293.1,227.4 293.7,223.6 294.3,224.1 294.9,224.3 295.5,224.2 296.1,225.1 296.7,226.2 297.3,228.6 297.9,230.9 298.5,227.1 299.1,228.8 299.7,233.8 300.3,232.5 300.9,231.9 301.5,230.1 302.1,234.2 302.7,233.4 303.3,232.1 304.0,237.3 304.6,236.1 305.2,237.2 305.8,236.2 306.4,232.0 307.0,234.3 307.6,236.5 308.2,239.5 308.8,237.4 309.4,238.8 310.0,241.8 310.6,242.9 311.2,245.4 311.8,243.7 312.4,242.7 313.0,243.0 313.6,244.3 314.2,244.8 314.8,247.9 315.4,248.2 316.0,245.7 316.6,247.1 317.2,250.0 317.8,248.2 318.4,247.8 319.0,248.1 319.6,249.3 320.2,250.6 320.8,249.2 321.4,247.7 322.0,251.0 322.6,253.0 323.2,251.7 323.8,255.1 324.4,252.6 325.0,254.1 325.6,252.6 326.2,254.8 326.8,253.5 327.4,251.4 328.0,256.0 328.6,257.6 329.2,255.4 329.8,255.4 330.4,256.7 331.0,258.1 331.6,255.8 332.2,256.6 332.8,260.8 333.4,257.5 334.0,258.6 334.6,255.4 335.2,259.0 335.8,259.6 336.4,256.3 337.0,260.1 337.6,259.2 338.2,258.9 338.8,258.4 339.4,260.0 340.0,264.1 340.6,258.3 341.2,261.5 341.8,261.8 342.4,256.9 343.0,259.4 343.7,263.3 344.3,262.3 344.9,262.3 345.5,263.7 346.1,266.6 346.7,261.7 347.3,261.9 347.9,263.4 348.5,265.0 349.1,264.2 349.7,264.0 350.3,268.1 350.9,267.1 351.5,268.4 352.1,265.5 352.7,267.1 353.3,270.6 353.9,269.8 354.5,265.6 355.1,271.3 355.7,269.0 356.3,270.7 356.9,267.3 357.5,269.7 358.1,270.6 358.7,272.5 359.3,270.9 359.9,268.7 360.5,269.0 361.1,273.7 361.7,267.8 362.3,271.9 362.9,273.8 363.5,271.7 364.1,273.6 364.7,273.8 365.3,274.0 365.9,272.7 366.5,273.8 367.1,276.6 367.7,271.8 368.3,274.1 368.9,270.2 369.5,272.1 370.1,271.7 370.7,273.0 371.3,270.8 371.9,275.0 372.5,276.7 373.1,274.0 373.7,281.6 374.3,276.7 374.9,275.9 375.5,277.4 376.1,274.4 376.7,275.9 377.3,277.8 377.9,279.1 378.5,276.0 379.1,280.3 379.7,279.9 380.3,277.2 380.9,277.6 381.5,274.3 382.1,279.3 382.7,282.9 383.3,277.2 384.0,275.8 384.6,279.2 385.2,275.1 385.8,274.6 386.4,280.5 387.0,280.2 387.6,282.3 388.2,278.0 388.8,277.3 389.4,277.5 390.0,281.9 390.6,280.9 391.2,282.5 391.8,282.8 392.4,282.1 393.0,282.5 393.6,278.9 394.2,277.5 394.8,277.8 395.4,282.4 396.0,281.1 396.6,280.0 397.2,279.1 397.8,281.4 398.4,280.9 399.0,281.9 399.6,283.2 400.2,282.1 400.8,284.5 401.4,279.5 402.0,285.8 402.6,280.8 403.2,285.1 403.8,278.2 404.4,279.6 405.0,283.4 405.6,282.4 406.2,284.0 406.8,281.9 407.4,280.8 408.0,276.0 408.6,285.2 409.2,279.1 409.8,283.6 410.4,281.5 411.0,280.5 411.6,281.3 412.2,281.8 412.8,283.3 413.4,283.0 414.0,282.5 414.6,280.2 415.2,286.4 415.8,284.2 416.4,286.4 417.0,285.8 417.6,285.4 418.2,281.3 418.8,278.8 419.4,280.8 420.0,289.5 420.6,283.9 421.2,286.9 421.8,283.6 422.4,281.6 423.0,283.4 423.6,282.8 424.3,285.5 424.9,290.1 425.5,290.1 426.1,286.1 426.7,284.7 427.3,283.5 427.9,287.4 428.5,286.8 429.1,283.5 429.7,284.9 430.3,287.3 430.9,289.6 431.5,284.5 432.1,286.2 432.7,286.5 433.3,290.5 433.9,287.6 434.5,291.5 435.1,292.3 435.7,288.3 436.3,289.1 436.9,283.9 437.5,284.8 438.1,287.9 438.7,283.6 439.3,288.9 439.9,285.7 440.5,290.2 441.1,287.1 441.7,290.8 442.3,287.9 442.9,286.4 443.5,292.3 444.1,288.0 444.7,290.2 445.3,288.1 445.9,287.5 446.5,289.5 447.1,289.6 447.7,291.8 448.3,288.0 448.9,290.9 449.5,288.0 450.1,292.4 450.7,285.9 451.3,291.6 451.9,286.2 452.5,290.1 453.1,287.6 453.7,289.0 454.3,287.2 454.9,289.0 455.5,286.6 456.1,287.8 456.7,287.9 457.3,285.8 457.9,291.8 458.5,287.3 459.1,290.3 459.7,294.0 460.3,289.2 460.9,290.6 461.5,286.3 462.1,291.7 462.7,290.3 463.3,290.1 464.0,295.2 464.6,289.5 465.2,292.9 465.8,287.3 466.4,286.8 467.0,290.9 467.6,294.2 468.2,290.1 468.8,290.1 469.4,288.7 470.0,291.3 470.6,293.6 471.2,291.4 471.8,293.4 472.4,287.0 473.0,292.9 473.6,292.7 474.2,291.3 474.8,294.2 475.4,292.6 476.0,291.9 476.6,292.5 477.2,292.0 477.8,288.4 478.4,290.4 479.0,294.8 479.6,292.8 480.2,290.0 480.8,293.8 481.4,292.1 482.0,292.4 482.6,291.2 483.2,292.9 483.8,293.2 484.4,294.8 485.0,292.0 485.6,295.1 486.2,289.1 486.8,292.9 487.4,293.2 488.0,290.7 488.6,293.0 489.2,292.5 489.8,292.7 490.4,294.6 491.0,295.2 491.6,295.0 492.2,290.7 492.8,295.0 493.4,294.8 494.0,295.0 494.6,292.3 495.2,289.7 495.8,296.4 496.4,293.0 497.0,294.2 497.6,295.1 498.2,293.2 498.8,297.6 499.4,292.4 500.0,293.8 500.6,296.8 501.2,290.3 501.8,292.2 502.4,291.4 503.0,297.7 503.6,295.0 504.3,295.8 504.9,290.8 505.5,291.8 506.1,299.4 506.7,294.6 507.3,295.0 507.9,292.9 508.5,295.3 509.1,297.8 509.7,295.8 510.3,297.8 510.9,297.4 511.5,295.0 512.1,296.5 512.7,295.0 513.3,299.5 513.9,290.1 514.5,292.7 515.1,294.0 515.7,298.1 516.3,300.2 516.9,297.0 517.5,295.9 518.1,290.1 518.7,292.2 519.3,296.5 519.9,292.4 520.5,292.2 521.1,295.1 521.7,292.6 522.3,294.6 522.9,297.0 523.5,298.0 524.1,295.5 524.7,293.1 525.3,298.5 525.9,299.2 526.5,294.6 527.1,302.3 527.7,291.5 528.3,296.6 528.9,294.1 529.5,291.8 530.1,299.5 530.7,298.7 531.3,291.1 531.9,296.9 532.5,296.3 533.1,295.3 533.7,293.4 534.3,292.7 534.9,295.2 535.5,295.8 536.1,295.2 536.7,294.4 537.3,291.8 537.9,294.8 538.5,291.1 539.1,297.6 539.7,294.4 540.3,292.0 540.9,293.3 541.5,296.0 542.1,298.8 542.7,298.4 543.3,297.4 544.0,297.0" stroke="#ff00ff"/>
<polyline points="62.8,305.1 63.4,306.3 64.0,302.9 64.6,303.3 65.2,302.4 65.8,305.0 66.4,304.5 67.0,301.0 67.6,304.8 68.2,301.4 68.8,301.1 69.4,305.6 70.0,307.4 70.6,303.6 71.2,306.1 71.8,306.1 72.4,308.0 73.0,302.6 73.6,304.6 74.2,304.7 74.8,304.0 75.4,304.3 76.0,304.6 76.6,306.0 77.2,305.3 77.8,309.6 78.4,303.4 79.0,304.0 79.6,304.7 80.2,301.8 80.8,307.4 81.4,309.6 82.0,302.0 82.6,304.0 83.2,307.8 83.8,305.5 84.4,303.6 85.0,307.0 85.6,303.7 86.2,300.8 86.8,302.2 87.4,304.8 88.0,304.2 88.6,306.5 89.2,304.5 89.8,305.4 90.4,306.6 91.0,304.3 91.6,301.2 92.2,304.6 92.8,306.7 93.4,305.5 94.0,302.0 94.6,301.7 95.2,305.9 95.8,304.4 96.4,303.1 97.0,305.4 97.6,306.9 98.2,306.6 98.8,304.7 99.4,306.2 100.0,307.2 100.6,305.2 101.2,303.0 101.8,303.5 102.4,305.6 103.1,301.2 103.7,306.2 104.3,304.9 104.9,307.3 105.5,303.3 106.1,305.0 106.7,307.9 107.3,306.3 107.9,301.4 108.5,303.4 109.1,304.6 109.7,303.2 110.3,307.7 110.9,306.3 111.5,307.2 112.1,306.3 112.7,306.2 113.3,303.8 113.9,302.9 114.5,302.9 115.1,299.8 115.7,305.7 116.3,304.8 116.9,303.8 117.5,306.3 118.1,305.3 118.7,304.0 119.3,306.4 119.9,303.9 120.5,302.5 121.1,306.9 121.7,309.0 122.3,304.6 122.9,306.7 123.5,304.5 124.1,305.6 124.7,304.2 125.3,302.7 125.9,303.3 126.5,305.5 127.1,307.0 127.7,309.4 128.3,308.8 128.9,306.3 129.5,304.6 130.1,306.1 130.7,305.9 131.3,307.8 131.9,307.9 132.5,308.0 133.1,303.7 133.7,308.5 134.3,303.6 134.9,306.5 135.5,303.8 136.1,304.4 136.7,306.1 137.3,302.7 137.9,306.3 138.5,306.7 139.1,305.7 139.7,306.3 140.3,303.7 140.9,305.1 141.5,304.9 142.1,304.1 142.7,305.8 143.4,302.9 144.0,308.4 144.6,304.5 145.2,304.0 145.8,306.4 146.4,306.2 147.0,303.2 147.6,305.5 148.2,308.5 148.8,307.5 149.4,303.1 150.0,306.6 150.6,302.5 151.2,302.4 151.8,305.3 152.4,303.9 153.0,306.5 153.6,305.7 154.2,306.3 154.8,303.9 155.4,307.3 156.0,305.2 156.6,304.9 157.2,304.0 157.8,308.9 158.4,308.3 159.0,306.6 159.6,305.4 160.2,304.7 160.8,304.6 161.4,301.2 162.0,303.7 162.6,303.9 163.2,305.9 163.8,303.5 164.4,303.7 165.0,303.7 165.6,305.2 166.2,303.8 166.8,302.1 167.4,306.5 168.0,309.0 168.6,303.4 169.2,303.6 169.8,305.4 170.4,305.8 171.0,299.2 171.6,305.8 172.2,307.3 172.8,305.9 173.4,304.0 174.0,306.1 174.6,305.7 175.2,304.4 175.8,305.8 176.4,304.7 177.0,305.1 177.6,307.0 178.2,304.8 178.8,307.1 179.4,303.2 180.0,306.7 180.6,305.4 181.2,308.4 181.8,305.8 182.4,307.3 183.0,302.2 183.7,305.2 184.3,304.0 184.9,308.2 185.5,307.3 186.1,305.3 186.7,307.5 187.3,302.9 187.9,305.7 188.5,302.3 189.1,304.4 189.7,305.3 190.3,303.6 190.9,306.2 191.5,304.3 192.1,301.4 192.7,304.6 193.3,304.8 193.9,305.6 194.5,304.9 195.1,303.7 195.7,305.5 196.3,308.1 196.9,304.7 197.5,305.3 198.1,304.1 198.7,304.9 199.3,302.3 199.9,307.2 200.5,306.8 201.1,303.8 201.7,306.9 202.3,304.4 202.9,305.0 203.5,308.6 204.1,303.8 204.7,302.5 205.3,303.4 205.9,307.6 206.5,303.5 207.1,306.9 207.7,305.2 208.3,304.2 208.9,306.4 209.5,308.1 210.1,305.3 210.7,305.1 211.3,306.6 211.9,306.4 212.5,303.6 213.1,305.2 213.7,305.9 214.3,306.1 214.9,304.7 215.5,304.8 216.1,305.3 216.7,307.6 217.3,305.7 217.9,306.2 218.5,304.9 219.1,302.9 219.7,303.3 220.3,303.8 220.9,304.8 221.5,305.6 222.1,304.4 222.7,305.9 223.4,305.6 224.0,306.6 224.6,305.1 225.2,307.0 225.8,301.6 226.4,304.0 227.0,305.7 227.6,303.6 228.2,305.9 228.8,303.2 229.4,303.6 230.0,299.7 230.6,307.0 231.2,305.2 231.8,305.2 232.4,304.5 233.0,303.7 233.6,306.8 234.2,306.3 234.8,304.5 235.4,303.3 236.0,307.1 236.6,307.8 237.2,302.9 237.8,303.5 238.4,303.0 239.0,306.8 239.6,305.4 240.2,304.6 240.8,304.2 241.4,305.2 242.0,306.5 242.6,303.2 243.2,305.2 243.8,273.7 244.4,241.7 245.0,217.5 245.6,196.9 246.2,177.9 246.8,158.7 247.4,136.3 248.0,123.7 248.6,118.1 249.2,109.0 249.8,105.2 250.4,97.6 251.0,91.1 251.6,85.4 252.2,83.6 252.8,88.6 253.4,94.1 254.0,95.8 254.6,98.4 255.2,102.0 255.8,103.4 256.4,101.6 257.0,105.7 257.6,108.1 258.2,109.5 258.8,111.1 259.4,112.2 260.0,115.4 260.6,114.9 261.2,121.0 261.8,120.5 262.4,122.9 263.0,128.1 263.7,128.2 264.3,130.4 264.9,134.7 265.5,132.5 266.1,137.3 266.7,140.9 267.3,143.5 267.9,146.3 268.5,147.0 269.1,149.8 269.7,154.5 270.3,156.6 270.9,158.3 271.5,160.1 272.1,161.6 272.7,163.9 273.3,163.8 273.9,164.9 274.5,167.9 275.1,173.0 275.7,171.5 276.3,172.2 276.9,174.8 277.5,175.9 278.1,178.1 278.7,181.9 279.3,185.1 279.9,181.8 280.5,185.2 281.1,185.5 281.7,188.2 282.3,189.7 282.9,189.1 283.5,194.9 284.1,194.5 284.7,197.8 285.3,197.1 285.9,197.5 286.5,198.6 287.1,200.4 287.7,203.6 288.3,202.0 288.9,201.8 289.5,202.8 290.1,202.0 290.7,205.5 291.3,209.1 291.9,209.1 292.5,208.5 293.1,207.8 293.7,212.1 294.3,209.7 294.9,211.2 295.5,214.4 296.1,213.0 296.7,216.0 297.3,215.5 297.9,217.0 298.5,217.3 299.1,220.3 299.7,218.5 300.3,223.4 300.9,221.4 301.5,222.2 302.1,219.8 302.7,222.4 303.3,224.8 304.0,225.7 304.6,224.7 305.2,226.3 305.8,222.5 306.4,230.6 307.0,226.6 307.6,231.3 308.2,226.2 308.8,231.6 309.4,226.5 310.0,231.2 310.6,229.2 311.2,231.4 311.8,230.4 312.4,233.2 313.0,238.7 313.6,235.8 314.2,237.9 314.8,234.5 315.4,235.9 316.0,237.1 316.6,236.9 317.2,237.8 317.8,239.5 318.4,235.7 319.0,239.0 319.6,240.2 320.2,242.5 320.8,241.5 321.4,240.8 322.0,241.5 322.6,242.1 323.2,241.8 323.8,244.0 324.4,242.7 325.0,245.3 325.6,244.5 326.2,244.8 326.8,242.5 327.4,243.5 328.0,244.6 328.6,247.2 329.2,249.9 329.8,244.6 330.4,244.0 331.0,250.3 331.6,248.0 332.2,247.1 332.8,246.9 333.4,247.9 334.0,247.3 334.6,251.6 335.2,247.0 335.8,251.7 336.4,250.5 337.0,250.2 337.6,249.5 338.2,250.5 338.8,251.4 339.4,251.1 340.0,253.8 340.6,252.5 341.2,251.2 341.8,256.2 342.4,257.2 343.0,256.6 343.7,252.8 344.3,253.7 344.9,256.7 345.5,255.9 346.1,255.8 346.7,254.9 347.3,260.8 347.9,258.3 348.5,258.4 349.1,257.7 349.7,258.2 350.3,258.9 350.9,257.8 351.5,263.1 352.1,252.8 352.7,257.2 353.3,257.7 353.9,261.0 354.5,258.9 355.1,256.2 355.7,256.7 356.3,261.1 356.9,263.2 357.5,261.1 358.1,262.3 358.7,260.4 359.3,264.3 359.9,262.6 360.5,262.2 361.1,263.8 361.7,261.1 362.3,265.2 362.9,265.7 363.5,264.2 364.1,262.0 364.7,264.4 365.3,265.1 365.9,262.3 366.5,263.3 367.1,264.9 367.7,264.0 368.3,264.9 368.9,263.8 369.5,265.2 370.1,267.2 370.7,266.8 371.3,267.0 371.9,265.6 372.5,266.2 373.1,269.1 373.7,268.1 374.3,267.4 374.9,265.8 375.5,267.7 376.1,264.5 376.7,269.2 377.3,267.8 377.9,275.1 378.5,269.4 379.1,270.0 379.7,269.6 380.3,270.5 380.9,270.9 381.5,272.1 382.1,273.4 382.7,272.0 383.3,270.6 384.0,269.3 384.6,278.6 385.2,270.5 385.8,269.7 386.4,269.1 387.0,271.5 387.6,270.8 388.2,273.4 388.8,272.8 389.4,271.5 390.0,275.5 390.6,275.1 391.2,273.9 391.8,276.5 392.4,273.8 393.0,276.4 393.6,273.4 394.2,274.0 394.8,271.1 395.4,276.5 396.0,275.7 396.6,279.4 397.2,275.5 397.8,274.6 398.4,272.1 399.0,276.2 399.6,275.9 400.2,272.4 400.8,271.2 401.4,276.5 402.0,273.1 402.6,272.6 403.2,274.3 403.8,277.4 404.4,277.6 405.0,274.4 405.6,270.6 406.2,276.4 406.8,273.2 407.4,272.6 408.0,279.5 408.6,279.0 409.2,274.4 409.8,275.7 410.4,276.7 411.0,277.9 411.6,276.7 412.2,279.5 412.8,272.3 413.4,280.2 414.0,281.8 414.6,277.4 415.2,274.7 415.8,279.1 416.4,278.4 417.0,280.7 417.6,278.8 418.2,280.9 418.8,281.4 419.4,282.6 420.0,280.7 420.6,275.5 421.2,279.6 421.8,279.2 422.4,274.8 423.0,281.0 423.6,281.8 424.3,278.7 424.9,282.8 425.5,279.1 426.1,277.3 426.7,282.0 427.3,281.1 427.9,276.6 428.5,282.8 429.1,281.9 429.7,280.2 430.3,281.4 430.9,282.4 431.5,277.4 432.1,282.4 432.7,280.7 433.3,282.3 433.9,281.8 434.5,284.2 435.1,279.6 435.7,282.5 436.3,278.7 436.9,284.5 437.5,283.1 438.1,281.2 438.7,282.0 439.3,283.7 439.9,282.5 440.5,285.0 441.1,281.8 441.7,287.7 442.3,281.8 442.9,278.9 443.5,280.1 444.1,279.7 444.7,282.7 445.3,280.7 445.9,283.1 446.5,282.5 447.1,282.5 447.7,290.1 448.3,280.7 448.9,282.0 449.5,281.2 450.1,285.3 450.7,281.5 451.3,282.3 451.9,287.9 452.5,287.2 453.1,283.2 453.7,285.0 454.3,283.6 454.9,284.8 455.5,280.1 456.1,287.7 456.7,287.0 457.3,285.9 457.9,286.9 458.5,285.2 459.1,284.4 459.7,287.0 460.3,283.0 460.9,281.2 461.5,281.7 462.1,279.5 462.7,281.6 463.3,284.4 464.0,280.5 464.6,283.0 465.2,280.4 465.8,285.1 466.4,289.7 467.0,287.7 467.6,284.8 468.2,284.7 468.8,286.0 469.4,283.5 470.0,288.3 470.6,287.0 471.2,283.2 471.8,285.2 472.4,285.0 473.0,282.4 473.6,283.0 474.2,287.0 474.8,285.2 475.4,289.4 476.0,285.7 476.6,285.2 477.2,290.0 477.8,283.0 478.4,282.3 479.0,285.2 479.6,284.2 480.2,283.0 480.8,286.9 481.4,284.1 482.0,285.7 482.6,290.0 483.2,288.5 483.8,288.0 484.4,284.1 485.0,286.9 485.6,291.5 486.2,288.9 486.8,290.4 487.4,283.2 488.0,281.9 488.6,287.2 489.2,289.0 489.8,285.8 490.4,291.2 491.0,289.1 491.6,291.6 492.2,287.6 492.8,288.4 493.4,289.6 494.0,290.2 494.6,292.0 495.2,290.5 495.8,286.0 496.4,286.9 497.0,286.0 497.6,290.8 498.2,289.0 498.8,289.7 499.4,289.8 500.0,287.4 500.6,293.5 501.2,287.6 501.8,287.5 502.4,289.2 503.0,288.7 503.6,289.5 504.3,287.3 504.9,288.9 505.5,290.5 506.1,288.8 506.7,289.3 507.3,288.2 507.9,289.3 508.5,288.9 509.1,290.6 509.7,290.3 510.3,293.2 510.9,289.6 511.5,287.6 512.1,290.5 512.7,291.8 513.3,288.0 513.9,289.5 514.5,289.2 515.1,288.6 515.7,288.6 516.3,288.0 516.9,292.2 517.5,286.3 518.1,289.9 518.7,291.7 519.3,289.6 519.9,287.6 520.5,293.6 521.1,287.7 521.7,290.3 522.3,286.3 522.9,289.3 523.5,291.2 524.1,288.3 524.7,288.3 525.3,291.8 525.9,290.9 526.5,292.7 527.1,289.7 527.7,295.2 528.3,292.1 528.9,296.3 529.5,290.1 530.1,296.8 530.7,294.1 531.3,291.3 531.9,292.7 532.5,292.8 533.1,294.1 533.7,292.9 534.3,295.8 534.9,291.3 535.5,290.7 536.1,290.5 536.7,292.4 537.3,289.8 537.9,291.3 538.5,290.5 539.1,291.7 539.7,292.7 540.3,294.5 540.9,298.8 541.5,291.6 542.1,293.5 542.7,289.0 543.3,297.7 544.0,291.6" stroke="#008000"/>
<polyline points="62.8,307.8 63.4,305.7 64.0,307.1 64.6,305.4 65.2,304.0 65.8,302.9 66.4,302.2 67.0,303.6 67.6,306.6 68.2,304.1 68.8,306.2 69.4,304.1 70.0,308.7 70.6,302.5 71.2,304.3 71.8,305.7 72.4,305.1 73.0,304.6 73.6,306.2 74.2,304.7 74.8,306.6 75.4,306.2 76.0,303.9 76.6,302.2 77.2,307.7 77.8,305.5 78.4,304.4 79.0,305.5 79.6,306.0 80.2,300.8 80.8,306.8 81.4,304.4 82.0,306.1 82.6,305.4 83.2,309.7 83.8,303.4 84.4,305.6 85.0,307.1 85.6,301.8 86.2,305.7 86.8,306.4 87.4,306.8 88.0,303.0 88.6,305.1 89.2,305.8 89.8,305.2 90.4,307.0 91.0,304.5 91.6,305.2 92.2,309.2 92.8,306.9 93.4,304.7 94.0,299.8 94.6,306.7 95.2,309.6 95.8,303.6 96.4,306.7 97.0,307.8 97.6,304.0 98.2,305.6 98.8,307.1 99.4,307.8 100.0,305.4 100.6,305.0 101.2,308.7 101.8,303.2 102.4,307.7 103.1,302.4 103.7,304.5 104.3,305.5 104.9,304.5 105.5,306.3 106.1,305.3 106.7,301.9 107.3,306.3 107.9,303.5 108.5,306.9 109.1,305.2 109.7,303.2 110.3,307.6 110.9,304.5 111.5,309.4 112.1,307.4 112.7,306.0 113.3,303.4 113.9,303.9 114.5,307.0 115.1,305.4 115.7,304.8 116.3,308.3 116.9,304.3 117.5,302.5 118.1,302.7 118.7,306.3 119.3,306.0 119.9,307.0 120.5,306.1 121.1,305.7 121.7,303.8 122.3,303.0 122.9,307.0 123.5,303.5 124.1,303.4 124.7,306.4 125.3,305.6 125.9,305.4 126.5,305.1 127.1,304.9 127.7,303.8 128.3,301.3 128.9,304.8 129.5,305.7 130.1,305.4 130.7,303.9 131.3,303.6 131.9,306.9 132.5,304.8 133.1,303.8 133.7,309.2 134.3,302.4 134.9,305.6 135.5,303.4 136.1,303.7 136.7,305.6 137.3,305.3 137.9,304.6 138.5,303.4 139.1,305.7 139.7,307.4 140.3,306.5 140.9,307.1 141.5,303.6 142.1,307.1 142.7,300.8 143.4,304.9 144.0,305.3 144.6,302.5 145.2,305.9 145.8,305.7 146.4,303.6 147.0,303.7 147.6,307.1 148.2,300.2 148.8,304.0 149.4,307.6 150.0,305.5 150.6,303.3 151.2,304.7 151.8,303.4 152.4,300.1 153.0,303.3 153.6,301.1 154.2,302.6 154.8,306.4 155.4,302.1 156.0,306.5 156.6,303.2 157.2,303.8 157.8,306.8 158.4,306.5 159.0,305.5 159.6,301.6 160.2,302.4 160.8,304.9 161.4,301.3 162.0,303.3 162.6,306.4 163.2,306.3 163.8,304.9 164.4,306.1 165.0,305.2 165.6,303.5 166.2,304.5 166.8,303.1 167.4,306.4 168.0,306.8 168.6,307.8 169.2,308.6 169.8,305.9 170.4,304.9 171.0,305.4 171.6,305.0 172.2,301.0 172.8,307.2 173.4,305.6 174.0,306.0 174.6,306.8 175.2,302.3 175.8,305.1 176.4,302.5 177.0,307.3 177.6,301.3 178.2,300.7 178.8,306.8 179.4,305.0 180.0,305.3 180.6,303.9 181.2,307.6 181.8,304.1 182.4,303.6 183.0,306.2 183.7,309.5 184.3,306.4 184.9,305.8 185.5,303.5 186.1,306.2 186.7,307.3 187.3,303.8 187.9,304.3 188.5,303.5 189.1,304.9 189.7,302.9 190.3,304.0 190.9,308.6 191.5,304.6 192.1,303.5 192.7,304.9 193.3,302.1 193.9,305.9 194.5,304.4 195.1,307.4 195.7,305.0 196.3,306.1 196.9,307.0 197.5,307.6 198.1,304.5 198.7,304.1 199.3,306.3 199.9,307.5 200.5,306.7 201.1,303.5 201.7,307.4 202.3,302.7 202.9,308.3 203.5,304.4 204.1,303.7 204.7,302.5 205.3,305.8 205.9,306.5 206.5,307.8 207.1,303.2 207.7,305.2 208.3,305.9 208.9,305.8 209.5,304.5 210.1,303.6 210.7,302.6 211.3,309.3 211.9,303.3 212.5,306.0 213.1,305.1 213.7,305.6 214.3,305.1 214.9,303.5 215.5,304.5 216.1,307.9 216.7,305.1 217.3,305.2 217.9,304.2 218.5,304.9 219.1,305.1 219.7,302.9 220.3,307.1 220.9,300.6 221.5,306.1 222.1,307.0 222.7,303.4 223.4,302.8 224.0,302.5 224.6,302.1 225.2,304.0 225.8,304.8 226.4,304.2 227.0,305.0 227.6,306.0 228.2,301.8 228.8,301.3 229.4,304.9 230.0,305.4 230.6,305.9 231.2,308.3 231.8,306.3 232.4,306.0 233.0,305.0 233.6,307.0 234.2,308.8 234.8,303.7 235.4,301.5 236.0,309.2 236.6,305.2 237.2,303.2 237.8,307.3 238.4,307.8 239.0,304.9 239.6,305.4 240.2,306.2 240.8,301.7 241.4,302.0 242.0,303.6 242.6,308.0 243.2,305.1 243.8,269.6 244.4,238.4 245.0,206.2 245.6,180.4 246.2,157.5 246.8,128.7 247.4,101.0 248.0,89.4 248.6,82.2 249.2,70.9 249.8,68.0 250.4,63.5 251.0,62.4 251.6,63.3 252.2,61.4 252.8,65.2 253.4,76.4 254.0,79.5 254.6,80.6 255.2,85.3 255.8,88.8 256.4,95.1 257.0,94.9 257.6,97.2 258.2,93.6 258.8,92.7 259.4,97.4 260.0,100.3 260.6,96.3 261.2,96.6 261.8,95.2 262.4,95.1 263.0,99.4 263.7,100.2 264.3,110.6 264.9,115.0 265.5,116.3 266.1,123.0 266.7,120.8 267.3,125.3 267.9,129.3 268.5,130.7 269.1,130.4 269.7,132.2 270.3,133.8 270.9,137.5 271.5,142.1 272.1,142.0 272.7,145.4 273.3,143.5 273.9,153.0 274.5,149.3 275.1,152.9 275.7,155.8 276.3,159.4 276.9,162.2 277.5,164.5 278.1,167.4 278.7,162.4 279.3,165.9 279.9,168.0 280.5,170.2 281.1,176.0 281.7,174.7 282.3,175.6 282.9,175.1 283.5,180.8 284.1,179.7 284.7,182.6 285.3,183.6 285.9,187.0 286.5,186.8 287.1,188.8 287.7,193.9 288.3,189.5 288.9,189.5 289.5,196.9 290.1,194.5 290.7,199.0 291.3,202.1 291.9,195.3 292.5,198.7 293.1,197.5 293.7,200.6 294.3,200.6 294.9,203.5 295.5,201.2 296.1,201.4 296.7,204.7 297.3,208.0 297.9,208.9 298.5,210.7 299.1,208.9 299.7,210.1 300.3,213.1 300.9,211.4 301.5,215.3 302.1,209.3 302.7,215.0 303.3,214.3 304.0,219.2 304.6,220.8 305.2,223.2 305.8,219.1 306.4,222.8 307.0,218.7 307.6,221.5 308.2,220.9 308.8,225.0 309.4,224.7 310.0,224.0 310.6,223.7 311.2,227.8 311.8,225.3 312.4,227.7 313.0,225.3 313.6,227.7 314.2,228.0 314.8,227.2 315.4,226.5 316.0,229.4 316.6,227.4 317.2,231.8 317.8,230.1 318.4,233.3 319.0,231.5 319.6,233.9 320.2,233.0 320.8,232.3 321.4,235.8 322.0,237.7 322.6,235.2 323.2,234.6 323.8,235.9 324.4,238.6 325.0,236.1 325.6,238.9 326.2,237.3 326.8,240.7 327.4,239.1 328.0,237.8 328.6,241.9 329.2,241.8 329.8,240.0 330.4,240.5 331.0,240.7 331.6,241.6 332.2,244.8 332.8,242.2 333.4,244.7 334.0,242.8 334.6,247.9 335.2,240.2 335.8,239.9 336.4,243.2 337.0,246.1 337.6,245.7 338.2,243.8 338.8,244.6 339.4,247.9 340.0,244.0 340.6,245.5 341.2,246.0 341.8,248.2 342.4,247.8 343.0,249.9 343.7,248.2 344.3,249.7 344.9,246.4 345.5,248.9 346.1,249.0 346.7,249.3 347.3,250.2 347.9,254.0 348.5,248.5 349.1,251.3 349.7,253.2 350.3,254.6 350.9,254.1 351.5,254.6 352.1,253.5 352.7,255.4 353.3,253.6 353.9,253.6 354.5,255.6 355.1,249.5 355.7,254.6 356.3,254.0 356.9,254.9 357.5,255.7 358.1,254.2 358.7,252.6 359.3,255.8 359.9,258.1 360.5,255.4 361.1,261.4 361.7,256.8 362.3,257.7 362.9,256.6 363.5,260.6 364.1,258.3 364.7,260.0 365.3,259.1 365.9,256.7 366.5,258.8 367.1,263.5 367.7,256.2 368.3,258.9 368.9,263.9 369.5,262.1 370.1,257.2 370.7,259.3 371.3,260.0 371.9,260.1 372.5,263.1 373.1,262.0 373.7,265.0 374.3,264.8 374.9,265.5 375.5,265.7 376.1,264.8 376.7,264.9 377.3,264.4 377.9,262.7 378.5,266.7 379.1,261.7 379.7,263.2 380.3,268.4 380.9,263.2 381.5,269.1 382.1,262.2 382.7,269.8 383.3,268.8 384.0,271.8 384.6,267.9 385.2,270.7 385.8,264.8 386.4,271.1 387.0,268.9 387.6,267.2 388.2,269.0 388.8,268.3 389.4,269.8 390.0,267.7 390.6,272.0 391.2,268.7 391.8,273.5 392.4,267.4 393.0,274.1 393.6,271.9 394.2,269.8 394.8,267.8 395.4,275.6 396.0,273.4 396.6,273.9 397.2,268.6 397.8,274.0 398.4,270.1 399.0,273.2 399.6,275.5 400.2,271.8 400.8,275.7 401.4,270.9 402.0,270.4 402.6,269.5 403.2,275.4 403.8,269.2 404.4,270.7 405.0,277.9 405.6,267.7 406.2,269.4 406.8,276.1 407.4,273.2 408.0,278.0 408.6,275.2 409.2,274.5 409.8,273.2 410.4,277.2 411.0,275.1 411.6,277.9 412.2,274.7 412.8,274.5 413.4,275.6 414.0,272.7 414.6,273.7 415.2,275.1 415.8,273.3 416.4,279.3 417.0,276.3 417.6,280.8 418.2,276.6 418.8,277.9 419.4,275.2 420.0,278.4 420.6,279.2 421.2,277.5 421.8,277.8 422.4,276.5 423.0,280.5 423.6,282.2 424.3,282.7 424.9,275.6 425.5,281.5 426.1,279.9 426.7,281.6 427.3,276.7 427.9,280.6 428.5,276.0 429.1,280.8 429.7,278.2 430.3,277.0 430.9,276.8 431.5,282.5 432.1,280.6 432.7,279.9 433.3,284.7 433.9,278.5 434.5,279.4 435.1,279.5 435.7,284.8 436.3,281.3 436.9,280.7 437.5,279.3 438.1,283.1 438.7,281.4 439.3,277.4 439.9,283.2 440.5,283.3 441.1,283.2 441.7,285.7 442.3,282.7 442.9,277.8 443.5,284.3 444.1,282.4 444.7,278.8 445.3,280.6 445.9,281.6 446.5,283.1 447.1,282.2 447.7,282.2 448.3,280.6 448.9,282.3 449.5,280.2 450.1,287.5 450.7,281.3 451.3,284.4 451.9,283.3 452.5,284.6 453.1,282.5 453.7,284.4 454.3,282.8 454.9,286.4 455.5,284.0 456.1,281.4 456.7,281.1 457.3,285.2 457.9,283.8 458.5,285.0 459.1,284.1 459.7,283.6 460.3,280.5 460.9,281.9 461.5,279.7 462.1,279.6 462.7,286.5 463.3,282.2 464.0,284.5 464.6,287.9 465.2,286.8 465.8,285.4 466.4,279.8 467.0,284.0 467.6,284.8 468.2,284.3 468.8,286.3 469.4,284.5 470.0,284.9 470.6,288.3 471.2,285.6 471.8,276.1 472.4,283.3 473.0,285.1 473.6,283.1 474.2,287.3 474.8,284.9 475.4,282.9 476.0,289.0 476.6,287.2 477.2,286.1 477.8,285.8 478.4,286.3 479.0,284.5 479.6,282.7 480.2,284.3 480.8,282.7 481.4,282.4 482.0,286.9 482.6,284.9 483.2,287.2 483.8,284.5 484.4,286.9 485.0,286.8 485.6,282.4 486.2,287.5 486.8,291.2 487.4,287.4 488.0,286.8 488.6,288.8 489.2,287.3 489.8,285.1 490.4,289.1 491.0,288.4 491.6,289.7 492.2,287.1 492.8,288.5 493.4,290.5 494.0,288.4 494.6,283.7 495.2,292.2 495.8,291.5 496.4,287.3 497.0,291.5 497.6,283.4 498.2,292.4 498.8,291.2 499.4,289.5 500.0,286.0 500.6,286.3 501.2,287.1 501.8,287.8 502.4,285.8 503.0,293.7 503.6,288.6 504.3,285.8 504.9,292.4 505.5,288.7 506.1,286.6 506.7,286.9 507.3,290.4 507.9,285.4 508.5,288.7 509.1,287.0 509.7,292.0 510.3,291.0 510.9,291.3 511.5,285.2 512.1,295.2 512.7,293.6 513.3,287.3 513.9,288.9 514.5,296.5 515.1,290.3 515.7,290.3 516.3,286.6 516.9,294.0 517.5,290.9 518.1,287.0 518.7,288.1 519.3,292.3 519.9,291.1 520.5,294.1 521.1,287.5 521.7,292.0 522.3,287.7 522.9,289.1 523.5,293.5 524.1,292.0 524.7,290.2 525.3,290.4 525.9,287.8 526.5,288.9 527.1,290.6 527.7,289.7 528.3,293.5 528.9,293.4 529.5,290.2 530.1,290.5 530.7,294.2 531.3,291.9 531.9,293.4 532.5,292.7 533.1,285.6 533.7,294.1 534.3,293.1 534.9,289.8 535.5,291.0 536.1,290.9 536.7,294.7 537.3,290.9 537.9,292.2 538.5,293.6 539.1,293.0 539.7,291.9 540.3,289.8 540.9,287.6 541.5,292.1 542.1,289.1 542.7,292.6 543.3,297.0 544.0,293.5" stroke="#000080"/>
<polyline points="62.8,300.7 63.4,301.5 64.0,307.2 64.6,307.6 65.2,304.8 65.8,304.4 66.4,307.6 67.0,306.4 67.6,302.3 68.2,304.5 68.8,302.9 69.4,305.0 70.0,302.9 70.6,306.0 71.2,306.0 71.8,306.8 72.4,308.8 73.0,305.8 73.6,307.6 74.2,305.9 74.8,304.7 75.4,304.6 76.0,304.2 76.6,305.8 77.2,305.1 77.8,302.7 78.4,305.3 79.0,304.9 79.6,309.8 80.2,307.2 80.8,302.8 81.4,306.7 82.0,307.1 82.6,303.1 83.2,307.4 83.8,303.0 84.4,305.2 85.0,306.2 85.6,309.0 86.2,302.4 86.8,308.6 87.4,307.4 88.0,303.4 88.6,307.5 89.2,304.0 89.8,305.1 90.4,305.5 91.0,307.1 91.6,306.3 92.2,304.4 92.8,306.9 93.4,303.7 94.0,304.5 94.6,303.9 95.2,304.5 95.8,303.9 96.4,304.2 97.0,303.4 97.6,304.2 98.2,304.4 98.8,306.8 99.4,308.4 100.0,304.9 100.6,303.1 101.2,306.8 101.8,308.2 102.4,306.1 103.1,304.3 103.7,303.3 104.3,305.6 104.9,307.3 105.5,305.1 106.1,303.6 106.7,305.1 107.3,303.0 107.9,306.0 108.5,303.3 109.1,301.7 109.7,307.0 110.3,306.7 110.9,303.7 111.5,298.8 112.1,304.0 112.7,305.0 113.3,302.4 113.9,305.2 114.5,308.2 115.1,306.9 115.7,302.3 116.3,308.3 116.9,307.8 117.5,303.4 118.1,304.7 118.7,302.6 119.3,307.1 119.9,306.5 120.5,305.7 121.1,307.5 121.7,305.5 122.3,305.3 122.9,303.3 123.5,305.2 124.1,305.8 124.7,306.2 125.3,302.8 125.9,302.9 126.5,304.4 127.1,305.8 127.7,305.9 128.3,307.6 128.9,304.9 129.5,305.0 130.1,301.7 130.7,304.6 131.3,303.5 131.9,302.4 132.5,308.7 133.1,306.3 133.7,305.5 134.3,304.8 134.9,307.3 135.5,303.3 136.1,303.2 136.7,304.0 137.3,303.6 137.9,307.2 138.5,302.7 139.1,306.2 139.7,308.7 140.3,304.7 140.9,304.2 141.5,306.4 142.1,308.3 142.7,307.3 143.4,305.3 144.0,310.0 144.6,303.0 145.2,300.2 145.8,305.4 146.4,302.9 147.0,305.3 147.6,307.3 148.2,303.7 148.8,303.9 149.4,306.8 150.0,307.8 150.6,307.0 151.2,302.7 151.8,305.6 152.4,299.4 153.0,306.3 153.6,302.9 154.2,304.4 154.8,305.4 155.4,303.3 156.0,306.7 156.6,305.1 157.2,307.3 157.8,309.3 158.4,304.9 159.0,307.3 159.6,307.6 160.2,303.8 160.8,305.3 161.4,304.2 162.0,301.6 162.6,304.6 163.2,304.1 163.8,307.4 164.4,303.3 165.0,303.3 165.6,307.1 166.2,303.7 166.8,304.4 167.4,305.4 168.0,303.6 168.6,300.2 169.2,306.3 169.8,305.7 170.4,304.8 171.0,305.4 171.6,308.6 172.2,303.7 172.8,303.2 173.4,301.5 174.0,306.1 174.6,307.5 175.2,303.7 175.8,307.0 176.4,305.0 177.0,305.8 177.6,304.6 178.2,305.9 178.8,303.6 179.4,306.8 180.0,300.2 180.6,303.4 181.2,306.2 181.8,306.9 182.4,305.4 183.0,305.9 183.7,306.6 184.3,302.8 184.9,303.0 185.5,307.1 186.1,303.9 186.7,305.0 187.3,303.4 187.9,306.3 188.5,300.7 189.1,304.8 189.7,301.0 190.3,305.9 190.9,302.3 191.5,305.2 192.1,301.7 192.7,305.3 193.3,307.1 193.9,307.1 194.5,306.2 195.1,303.8 195.7,304.2 196.3,304.7 196.9,302.9 197.5,301.7 198.1,307.0 198.7,303.0 199.3,300.4 199.9,306.2 200.5,306.1 201.1,304.2 201.7,304.5 202.3,306.0 202.9,305.1 203.5,302.3 204.1,303.1 204.7,306.6 205.3,308.4 205.9,307.2 206.5,304.6 207.1,306.5 207.7,306.6 208.3,300.7 208.9,305.5 209.5,305.7 210.1,304.5 210.7,302.1 211.3,304.4 211.9,303.6 212.5,304.8 213.1,301.9 213.7,307.4 214.3,307.2 214.9,306.0 215.5,300.9 216.1,301.9 216.7,307.2 217.3,305.9 217.9,303.9 218.5,304.8 219.1,303.2 219.7,305.9 220.3,308.3 220.9,303.7 221.5,301.1 222.1,308.0 222.7,308.7 223.4,310.0 224.0,308.7 224.6,304.1 225.2,307.3 225.8,303.5 226.4,305.6 227.0,304.7 227.6,303.6 228.2,305.4 228.8,307.0 229.4,302.4 230.0,307.9 230.6,302.1 231.2,306.2 231.8,306.0 232.4,304.2 233.0,304.1 233.6,303.9 234.2,307.9 234.8,306.7 235.4,304.3 236.0,304.2 236.6,305.1 237.2,302.4 237.8,305.3 238.4,303.1 239.0,302.8 239.6,304.3 240.2,305.3 240.8,303.5 241.4,304.1 242.0,303.7 242.6,306.7 243.2,303.5 243.8,267.0 244.4,237.1 245.0,206.7 245.6,181.1 246.2,152.2 246.8,132.1 247.4,97.7 248.0,86.5 248.6,75.2 249.2,66.3 249.8,61.8 250.4,61.0 251.0,59.0 251.6,57.4 252.2,58.8 252.8,59.4 253.4,59.6 254.0,63.6 254.6,68.1 255.2,69.8 255.8,73.3 256.4,84.6 257.0,84.3 257.6,82.0 258.2,79.6 258.8,80.4 259.4,78.1 260.0,71.7 260.6,75.0 261.2,78.2 261.8,75.6 262.4,79.2 263.0,81.7 263.7,96.0 264.3,98.9 264.9,103.9 265.5,111.2 266.1,112.4 266.7,111.4 267.3,114.3 267.9,116.8 268.5,117.0 269.1,122.0 269.7,122.4 270.3,118.6 270.9,125.4 271.5,125.1 272.1,127.9 272.7,127.9 273.3,131.4 273.9,133.5 274.5,133.8 275.1,138.0 275.7,145.0 276.3,144.7 276.9,142.4 277.5,145.6 278.1,150.8 278.7,156.1 279.3,156.1 279.9,152.1 280.5,156.7 281.1,158.3 281.7,165.3 282.3,166.6 282.9,166.8 283.5,169.7 284.1,167.8 284.7,174.5 285.3,169.7 285.9,172.1 286.5,173.9 287.1,172.6 287.7,174.8 288.3,176.7 288.9,178.7 289.5,179.6 290.1,184.6 290.7,186.0 291.3,184.7 291.9,184.7 292.5,182.9 293.1,187.5 293.7,191.7 294.3,191.9 294.9,194.9 295.5,193.6 296.1,195.5 296.7,196.8 297.3,197.4 297.9,196.6 298.5,197.8 299.1,202.1 299.7,198.4 300.3,203.4 300.9,201.5 301.5,202.7 302.1,200.1 302.7,204.7 303.3,205.5 304.0,207.0 304.6,204.9 305.2,208.2 305.8,210.9 306.4,209.2 307.0,207.0 307.6,209.0 308.2,210.2 308.8,214.9 309.4,215.0 310.0,215.0 310.6,219.7 311.2,211.9 311.8,220.2 312.4,217.2 313.0,221.8 313.6,219.3 314.2,218.5 314.8,220.0 315.4,223.5 316.0,223.5 316.6,220.9 317.2,223.7 317.8,223.8 318.4,222.8 319.0,231.2 319.6,225.9 320.2,223.7 320.8,223.1 321.4,226.0 322.0,230.1 322.6,226.8 323.2,225.2 323.8,231.3 324.4,231.9 325.0,230.5 325.6,231.8 326.2,236.0 326.8,237.2 327.4,235.1 328.0,233.4 328.6,231.0 329.2,233.6 329.8,232.8 330.4,230.2 331.0,227.3 331.6,232.6 332.2,237.7 332.8,233.4 333.4,236.2 334.0,236.0 334.6,235.2 335.2,235.8 335.8,240.9 336.4,240.9 337.0,237.6 337.6,236.3 338.2,233.2 338.8,237.1 339.4,240.1 340.0,240.9 340.6,242.0 341.2,243.9 341.8,244.5 342.4,243.3 343.0,242.4 343.7,245.3 344.3,243.8 344.9,244.8 345.5,244.9 346.1,245.6 346.7,244.3 347.3,245.3 347.9,252.3 348.5,244.9 349.1,245.5 349.7,247.2 350.3,245.6 350.9,248.4 351.5,246.7 352.1,249.7 352.7,238.5 353.3,246.7 353.9,251.3 354.5,250.1 355.1,249.2 355.7,247.9 356.3,248.8 356.9,252.7 357.5,251.8 358.1,249.8 358.7,249.7 359.3,250.8 359.9,253.4 360.5,251.5 361.1,252.4 361.7,254.5 362.3,254.3 362.9,253.1 363.5,255.2 364.1,250.0 364.7,249.8 365.3,250.0 365.9,257.8 366.5,254.9 367.1,252.4 367.7,254.5 368.3,254.2 368.9,254.8 369.5,258.8 370.1,251.3 370.7,258.9 371.3,259.4 371.9,252.8 372.5,258.3 373.1,252.9 373.7,255.0 374.3,255.4 374.9,257.4 375.5,260.4 376.1,259.8 376.7,256.6 377.3,257.4 377.9,261.0 378.5,255.2 379.1,260.4 379.7,258.7 380.3,257.8 380.9,257.1 381.5,260.8 382.1,256.2 382.7,258.5 383.3,256.8 384.0,264.0 384.6,260.2 385.2,258.9 385.8,267.6 386.4,259.9 387.0,261.9 387.6,260.7 388.2,262.6 388.8,259.9 389.4,264.6 390.0,265.2 390.6,262.1 391.2,262.2 391.8,268.3 392.4,261.1 393.0,261.3 393.6,261.7 394.2,267.6 394.8,261.9 395.4,264.5 396.0,263.4 396.6,266.4 397.2,268.1 397.8,269.5 398.4,268.7 399.0,263.7 399.6,269.1 400.2,268.6 400.8,265.9 401.4,267.6 402.0,273.2 402.6,269.2 403.2,268.3 403.8,262.7 404.4,266.3 405.0,271.8 405.6,272.6 406.2,270.7 406.8,269.1 407.4,272.3 408.0,268.6 408.6,274.2 409.2,269.4 409.8,267.0 410.4,278.2 411.0,270.6 411.6,269.8 412.2,269.6 412.8,270.5 413.4,271.1 414.0,270.6 414.6,271.0 415.2,271.0 415.8,266.7 416.4,269.0 417.0,269.7 417.6,274.2 418.2,273.8 418.8,269.3 419.4,275.6 420.0,269.7 420.6,276.8 421.2,267.0 421.8,269.8 422.4,275.2 423.0,274.8 423.6,279.9 424.3,274.2 424.9,270.5 425.5,272.4 426.1,275.2 426.7,268.8 427.3,273.5 427.9,273.8 428.5,275.4 429.1,273.3 429.7,267.2 430.3,274.1 430.9,280.7 431.5,275.1 432.1,270.2 432.7,272.4 433.3,277.4 433.9,275.5 434.5,281.3 435.1,275.0 435.7,279.8 436.3,278.8 436.9,279.3 437.5,271.7 438.1,272.8 438.7,273.7 439.3,279.0 439.9,277.7 440.5,272.8 441.1,279.4 441.7,279.0 442.3,280.2 442.9,273.0 443.5,276.8 444.1,277.8 444.7,279.0 445.3,280.8 445.9,275.2 446.5,280.3 447.1,279.5 447.7,283.1 448.3,281.4 448.9,279.9 449.5,280.3 450.1,280.6 450.7,281.0 451.3,279.2 451.9,287.1 452.5,278.0 453.1,280.5 453.7,283.8 454.3,280.8 454.9,279.0 455.5,280.1 456.1,279.8 456.7,279.7 457.3,278.2 457.9,283.8 458.5,281.8 459.1,278.7 459.7,280.1 460.3,283.6 460.9,281.0 461.5,282.4 462.1,280.3 462.7,285.6 463.3,285.7 464.0,285.4 464.6,281.5 465.2,274.0 465.8,278.1 466.4,277.0 467.0,280.9 467.6,276.6 468.2,280.4 468.8,281.0 469.4,277.8 470.0,282.9 470.6,287.7 471.2,285.2 471.8,278.0 472.4,279.8 473.0,282.2 473.6,283.7 474.2,283.5 474.8,282.7 475.4,286.6 476.0,276.0 476.6,287.0 477.2,280.4 477.8,285.5 478.4,287.4 479.0,285.4 479.6,287.0 480.2,284.7 480.8,289.4 481.4,285.2 482.0,283.6 482.6,282.7 483.2,284.8 483.8,280.0 484.4,288.2 485.0,283.9 485.6,284.8 486.2,283.7 486.8,284.6 487.4,280.2 488.0,284.6 488.6,287.0 489.2,277.2 489.8,284.5 490.4,285.4 491.0,282.6 491.6,287.3 492.2,289.0 492.8,282.9 493.4,288.9 494.0,286.4 494.6,282.3 495.2,279.8 495.8,285.2 496.4,285.5 497.0,282.0 497.6,289.4 498.2,286.9 498.8,287.2 499.4,291.0 500.0,293.7 500.6,286.8 501.2,282.9 501.8,283.4 502.4,282.0 503.0,293.6 503.6,286.2 504.3,281.8 504.9,288.8 505.5,290.2 506.1,285.9 506.7,287.5 507.3,285.4 507.9,287.6 508.5,283.7 509.1,286.0 509.7,287.1 510.3,288.8 510.9,285.5 511.5,289.8 512.1,284.9 512.7,283.8 513.3,285.0 513.9,291.6 514.5,286.7 515.1,286.7 515.7,286.0 516.3,293.3 516.9,290.5 517.5,288.8 518.1,284.7 518.7,290.6 519.3,286.5 519.9,289.3 520.5,284.3 521.1,289.3 521.7,294.8 522.3,291.4 522.9,289.7 523.5,286.6 524.1,288.1 524.7,291.2 525.3,294.0 525.9,290.2 526.5,293.5 527.1,285.9 527.7,287.1 528.3,293.8 528.9,297.0 529.5,291.8 530.1,289.7 530.7,293.7 531.3,292.6 531.9,287.6 532.5,289.3 533.1,296.5 533.7,291.0 534.3,291.8 534.9,292.4 535.5,289.7 536.1,289.7 536.7,283.8 537.3,290.3 537.9,293.1 538.5,292.7 539.1,289.0 539.7,284.6 540.3,288.4 540.9,289.0 541.5,293.6 542.1,292.2 542.7,290.5 543.3,294.6 544.0,289.0" stroke="#8000ff"/>
</g>
<g font-family="'Liberation Sans', Arial, sans-serif" font-size="15.2" fill="#000" stroke="#000" stroke-width="0.3">
<text x="53.4" y="308.8" text-anchor="end">0</text>
<text x="53.4" y="272.5" text-anchor="end">20</text>
<text x="53.4" y="236.2" text-anchor="end">40</text>
<text x="53.4" y="200.0" text-anchor="end">60</text>
<text x="53.4" y="163.7" text-anchor="end">80</text>
<text x="53.4" y="127.4" text-anchor="end">100</text>
<text x="53.4" y="91.1" text-anchor="end">120</text>
<text x="53.4" y="54.8" text-anchor="end">140</text>
<text x="53.4" y="18.6" text-anchor="end">160</text>
<text x="122.9" y="359.8" text-anchor="middle">−1000</text>
<text x="243.2" y="359.8" text-anchor="middle">0</text>
<text x="363.5" y="359.8" text-anchor="middle">1000</text>
<text x="483.8" y="359.8" text-anchor="middle">2000</text>
</g>
<g font-family="'Liberation Sans', Arial, sans-serif" font-size="20.1" fill="#000" stroke="#000" stroke-width="0.3">
<text x="295.5" y="378" text-anchor="middle">Time(ns)</text>
<text transform="translate(20.8,174.7) rotate(-90)" text-anchor="middle">Current(mA)</text>
</g>
<g font-family="'Liberation Sans', Arial, sans-serif" font-size="16.3" letter-spacing="0.35" fill="#000" stroke="#000" stroke-width="0.3">
<path d="M407 45.7H437" stroke="#000000" stroke-width="1.2" stroke-opacity="0.55"/>
<text x="441.4" y="49.8">300V</text>
<path d="M407 66.8H437" stroke="#ff0000" stroke-width="1.2" stroke-opacity="0.55"/>
<text x="441.4" y="70.8">400V</text>
<path d="M407 87.8H437" stroke="#0000ff" stroke-width="1.2" stroke-opacity="0.55"/>
<text x="441.4" y="91.9">500V</text>
<path d="M407 108.9H437" stroke="#ff00ff" stroke-width="1.2" stroke-opacity="0.55"/>
<text x="441.4" y="113.0">600V</text>
<path d="M407 129.9H437" stroke="#008000" stroke-width="1.2" stroke-opacity="0.55"/>
<text x="441.4" y="134.0">700V</text>
<path d="M407 150.9H437" stroke="#000080" stroke-width="1.2" stroke-opacity="0.55"/>
<text x="441.4" y="155.0">800V</text>
<path d="M407 172.0H437" stroke="#8000ff" stroke-width="1.2" stroke-opacity="0.55"/>
<text x="441.4" y="176.1">900V</text>
</g>
</svg>
</body></html>
